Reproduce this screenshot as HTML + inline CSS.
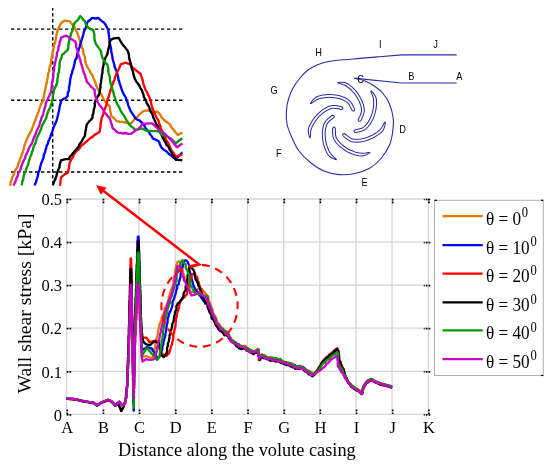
<!DOCTYPE html>
<html><head><meta charset="utf-8"><title>Wall shear stress</title>
<style>
html,body{margin:0;padding:0;background:#fff;}
svg{display:block}
.tk{font-family:"Liberation Serif",serif;font-size:16.5px;fill:#000}
.xl{font-family:"Liberation Serif",serif;font-size:18.3px;fill:#000}
.yl{font-family:"Liberation Serif",serif;font-size:19.8px;fill:#000}
.lg{font-family:"Liberation Serif",serif;font-size:18.8px;fill:#000}
.vl{font-family:"Liberation Sans",sans-serif;font-size:10.5px;fill:#000}
</style></head><body>
<svg width="550" height="466" viewBox="0 0 550 466">
<rect width="550" height="466" fill="#fff"/>
<line x1="66.7" y1="199.0" x2="66.7" y2="414.4" stroke="#d4d4d4" stroke-width="1.3"/>
<line x1="102.9" y1="199.0" x2="102.9" y2="414.4" stroke="#d4d4d4" stroke-width="1.3"/>
<line x1="139.0" y1="199.0" x2="139.0" y2="414.4" stroke="#d4d4d4" stroke-width="1.3"/>
<line x1="175.2" y1="199.0" x2="175.2" y2="414.4" stroke="#d4d4d4" stroke-width="1.3"/>
<line x1="211.3" y1="199.0" x2="211.3" y2="414.4" stroke="#d4d4d4" stroke-width="1.3"/>
<line x1="247.5" y1="199.0" x2="247.5" y2="414.4" stroke="#d4d4d4" stroke-width="1.3"/>
<line x1="283.7" y1="199.0" x2="283.7" y2="414.4" stroke="#d4d4d4" stroke-width="1.3"/>
<line x1="319.8" y1="199.0" x2="319.8" y2="414.4" stroke="#d4d4d4" stroke-width="1.3"/>
<line x1="356.0" y1="199.0" x2="356.0" y2="414.4" stroke="#d4d4d4" stroke-width="1.3"/>
<line x1="392.1" y1="199.0" x2="392.1" y2="414.4" stroke="#d4d4d4" stroke-width="1.3"/>
<line x1="428.3" y1="199.0" x2="428.3" y2="414.4" stroke="#d4d4d4" stroke-width="1.3"/>
<line x1="66.7" y1="199.0" x2="428.3" y2="199.0" stroke="#d4d4d4" stroke-width="1.3"/>
<line x1="66.7" y1="242.1" x2="428.3" y2="242.1" stroke="#d4d4d4" stroke-width="1.3"/>
<line x1="66.7" y1="285.2" x2="428.3" y2="285.2" stroke="#d4d4d4" stroke-width="1.3"/>
<line x1="66.7" y1="328.2" x2="428.3" y2="328.2" stroke="#d4d4d4" stroke-width="1.3"/>
<line x1="66.7" y1="371.3" x2="428.3" y2="371.3" stroke="#d4d4d4" stroke-width="1.3"/>
<line x1="66.7" y1="414.4" x2="428.3" y2="414.4" stroke="#d4d4d4" stroke-width="1.3"/>
<line x1="67.3" y1="198.8" x2="67.3" y2="203.4" stroke="#000" stroke-width="1.7" stroke-dasharray="1.7,1.1"/>
<line x1="67.3" y1="414.1" x2="67.3" y2="409.6" stroke="#000" stroke-width="1.7" stroke-dasharray="1.7,1.1"/>
<line x1="103.5" y1="198.8" x2="103.5" y2="203.4" stroke="#000" stroke-width="1.7" stroke-dasharray="1.7,1.1"/>
<line x1="103.5" y1="414.1" x2="103.5" y2="409.6" stroke="#000" stroke-width="1.7" stroke-dasharray="1.7,1.1"/>
<line x1="139.6" y1="198.8" x2="139.6" y2="203.4" stroke="#000" stroke-width="1.7" stroke-dasharray="1.7,1.1"/>
<line x1="139.6" y1="414.1" x2="139.6" y2="409.6" stroke="#000" stroke-width="1.7" stroke-dasharray="1.7,1.1"/>
<line x1="175.8" y1="198.8" x2="175.8" y2="203.4" stroke="#000" stroke-width="1.7" stroke-dasharray="1.7,1.1"/>
<line x1="175.8" y1="414.1" x2="175.8" y2="409.6" stroke="#000" stroke-width="1.7" stroke-dasharray="1.7,1.1"/>
<line x1="211.9" y1="198.8" x2="211.9" y2="203.4" stroke="#000" stroke-width="1.7" stroke-dasharray="1.7,1.1"/>
<line x1="211.9" y1="414.1" x2="211.9" y2="409.6" stroke="#000" stroke-width="1.7" stroke-dasharray="1.7,1.1"/>
<line x1="248.1" y1="198.8" x2="248.1" y2="203.4" stroke="#000" stroke-width="1.7" stroke-dasharray="1.7,1.1"/>
<line x1="248.1" y1="414.1" x2="248.1" y2="409.6" stroke="#000" stroke-width="1.7" stroke-dasharray="1.7,1.1"/>
<line x1="284.3" y1="198.8" x2="284.3" y2="203.4" stroke="#000" stroke-width="1.7" stroke-dasharray="1.7,1.1"/>
<line x1="284.3" y1="414.1" x2="284.3" y2="409.6" stroke="#000" stroke-width="1.7" stroke-dasharray="1.7,1.1"/>
<line x1="320.4" y1="198.8" x2="320.4" y2="203.4" stroke="#000" stroke-width="1.7" stroke-dasharray="1.7,1.1"/>
<line x1="320.4" y1="414.1" x2="320.4" y2="409.6" stroke="#000" stroke-width="1.7" stroke-dasharray="1.7,1.1"/>
<line x1="356.6" y1="198.8" x2="356.6" y2="203.4" stroke="#000" stroke-width="1.7" stroke-dasharray="1.7,1.1"/>
<line x1="356.6" y1="414.1" x2="356.6" y2="409.6" stroke="#000" stroke-width="1.7" stroke-dasharray="1.7,1.1"/>
<line x1="392.7" y1="198.8" x2="392.7" y2="203.4" stroke="#000" stroke-width="1.7" stroke-dasharray="1.7,1.1"/>
<line x1="392.7" y1="414.1" x2="392.7" y2="409.6" stroke="#000" stroke-width="1.7" stroke-dasharray="1.7,1.1"/>
<line x1="428.9" y1="198.8" x2="428.9" y2="203.4" stroke="#000" stroke-width="1.7" stroke-dasharray="1.7,1.1"/>
<line x1="428.9" y1="414.1" x2="428.9" y2="409.6" stroke="#000" stroke-width="1.7" stroke-dasharray="1.7,1.1"/>
<line x1="66.7" y1="199.5" x2="71.7" y2="199.5" stroke="#000" stroke-width="1.7" stroke-dasharray="1.7,1.1"/>
<line x1="430.3" y1="199.5" x2="423.8" y2="199.5" stroke="#000" stroke-width="1.7" stroke-dasharray="1.7,1.1"/>
<line x1="66.7" y1="242.6" x2="71.7" y2="242.6" stroke="#000" stroke-width="1.7" stroke-dasharray="1.7,1.1"/>
<line x1="430.3" y1="242.6" x2="423.8" y2="242.6" stroke="#000" stroke-width="1.7" stroke-dasharray="1.7,1.1"/>
<line x1="66.7" y1="285.7" x2="71.7" y2="285.7" stroke="#000" stroke-width="1.7" stroke-dasharray="1.7,1.1"/>
<line x1="430.3" y1="285.7" x2="423.8" y2="285.7" stroke="#000" stroke-width="1.7" stroke-dasharray="1.7,1.1"/>
<line x1="66.7" y1="328.7" x2="71.7" y2="328.7" stroke="#000" stroke-width="1.7" stroke-dasharray="1.7,1.1"/>
<line x1="430.3" y1="328.7" x2="423.8" y2="328.7" stroke="#000" stroke-width="1.7" stroke-dasharray="1.7,1.1"/>
<line x1="66.7" y1="371.8" x2="71.7" y2="371.8" stroke="#000" stroke-width="1.7" stroke-dasharray="1.7,1.1"/>
<line x1="430.3" y1="371.8" x2="423.8" y2="371.8" stroke="#000" stroke-width="1.7" stroke-dasharray="1.7,1.1"/>
<line x1="66.7" y1="414.9" x2="71.7" y2="414.9" stroke="#000" stroke-width="1.7" stroke-dasharray="1.7,1.1"/>
<line x1="430.3" y1="414.9" x2="423.8" y2="414.9" stroke="#000" stroke-width="1.7" stroke-dasharray="1.7,1.1"/>
<polyline points="66.4,398.4 68.1,398.6 69.7,398.5 71.2,398.9 72.8,398.8 74.6,399.0 76.3,399.4 77.9,399.7 79.6,400.3 81.3,400.6 83.1,400.8 84.8,401.3 86.4,401.4 88.3,401.9 90.0,402.3 91.8,402.5 93.5,402.8 95.3,404.1 97.2,405.2 98.5,404.2 100.2,403.3 101.5,402.2 103.1,401.6 104.7,401.1 106.4,400.5 108.1,399.9 109.9,400.7 111.7,401.2 112.9,402.7 114.2,403.9 115.4,405.1 116.7,404.1 117.9,402.7 119.4,401.8 120.2,403.1 121.4,404.2 122.4,405.7 124.8,404.1 125.1,402.4 125.5,400.8 125.9,399.4 126.2,397.7 126.3,395.8 126.5,394.2 126.5,392.7 126.7,390.9 126.7,389.5 126.9,387.9 127.2,386.1 127.2,384.5 127.3,382.8 127.4,381.2 127.6,379.4 127.5,377.8 127.5,376.0 127.8,374.4 127.8,372.5 127.8,371.0 127.8,369.3 128.1,367.5 128.1,365.9 128.2,364.2 128.3,362.6 128.2,360.7 128.5,359.3 128.4,357.4 128.6,355.7 128.6,354.1 128.7,352.5 128.7,350.8 128.9,349.1 128.9,347.6 128.8,345.8 129.0,344.2 128.9,342.6 129.1,340.9 129.0,339.3 129.2,337.7 129.3,336.0 129.2,334.5 129.4,332.8 129.2,331.1 129.4,329.5 129.5,328.0 129.4,326.2 129.6,324.7 129.6,323.0 129.5,321.3 129.7,319.7 129.6,318.1 129.7,316.4 129.9,314.7 129.7,313.3 130.0,311.7 129.9,310.1 130.1,308.2 130.1,306.7 130.1,305.0 130.1,303.3 130.1,301.6 130.2,300.0 130.4,298.3 130.4,296.9 130.5,295.3 130.5,293.6 130.3,292.0 130.4,290.2 130.6,288.6 130.6,287.1 131.2,287.0 131.2,288.7 131.3,290.3 131.3,291.7 131.3,293.5 131.3,295.1 131.5,296.7 131.5,298.1 131.5,299.9 131.4,301.3 131.5,303.0 131.6,304.6 131.7,306.1 131.5,307.7 131.6,309.3 131.9,311.1 131.6,312.6 131.7,314.1 131.8,315.8 131.9,317.4 131.8,318.9 131.8,320.6 132.0,322.2 131.9,323.7 132.0,325.4 132.1,327.0 132.2,328.6 132.1,330.2 132.2,331.9 132.2,333.5 132.2,334.9 132.3,336.7 132.2,338.2 132.3,339.9 132.5,341.4 132.5,343.1 132.4,344.6 132.4,346.3 132.6,347.9 132.6,349.5 132.7,351.0 132.5,352.6 132.5,354.1 132.8,355.7 132.6,357.3 132.9,358.9 132.7,360.7 132.7,362.3 132.9,363.9 133.1,365.4 133.0,366.9 133.1,368.6 133.1,370.1 133.1,371.9 133.0,373.3 133.2,375.1 133.1,376.5 133.1,378.2 133.3,379.8 133.3,381.4 133.3,383.0 133.2,384.6 133.5,386.2 133.5,387.7 133.5,389.5 133.6,391.0 133.5,392.6 133.7,394.1 133.5,395.9 133.8,397.4 133.7,399.1 133.6,397.3 133.7,395.7 133.7,394.0 133.9,392.5 133.8,390.8 133.9,389.2 134.0,387.4 133.9,385.7 134.0,384.1 133.9,382.5 134.0,381.0 134.0,379.4 134.1,377.6 134.2,376.0 134.3,374.3 134.2,372.7 134.4,371.0 134.4,369.5 134.3,367.6 134.3,366.1 134.5,364.5 134.5,362.7 134.4,361.0 134.4,359.5 134.6,357.9 134.5,356.3 134.5,354.5 134.7,352.8 134.6,351.4 134.8,349.6 134.9,348.1 134.9,346.4 135.1,344.8 135.1,343.2 135.4,341.6 135.3,339.9 135.3,338.4 135.4,336.9 135.7,335.0 135.8,333.5 135.8,332.0 135.7,330.4 135.9,328.8 135.9,327.2 136.2,325.5 136.1,323.7 136.2,322.2 136.3,320.7 136.4,318.9 136.5,317.5 136.4,315.9 136.6,314.1 136.8,312.5 136.7,311.0 136.9,309.4 137.0,307.7 136.9,306.0 137.0,304.6 137.2,302.9 137.3,301.2 137.2,299.6 137.5,297.9 137.5,296.4 137.6,294.8 137.6,293.2 137.7,291.7 137.8,290.1 138.5,289.9 138.6,291.6 138.8,293.4 138.7,294.9 138.9,296.8 139.1,298.4 139.1,299.9 139.1,301.6 139.2,303.4 139.2,305.0 139.5,306.6 139.6,308.5 139.7,310.1 139.7,311.8 139.8,313.6 139.9,315.1 140.0,316.8 140.0,318.5 139.9,320.2 140.2,321.8 140.2,323.5 140.2,325.1 140.2,326.7 140.5,328.3 140.5,330.1 140.7,331.5 140.8,333.2 140.6,334.8 140.8,336.3 141.0,338.2 141.0,339.8 141.2,341.2 141.3,342.9 141.4,344.6 141.4,346.1 141.5,347.9 141.6,349.4 141.7,351.0 141.9,352.9 142.3,354.9 142.7,357.0 144.5,356.5 146.0,356.0 147.9,356.8 150.1,357.6 152.7,357.3 153.6,355.1 153.6,353.5 154.2,351.5 154.1,349.8 155.1,348.0 155.2,346.3 155.3,344.6 155.9,342.9 155.9,341.1 156.4,339.7 156.6,337.6 157.3,336.3 157.8,334.3 157.9,332.9 158.0,331.7 158.4,329.3 159.0,327.7 159.4,326.2 159.4,324.3 160.2,322.8 160.8,321.5 161.5,319.8 161.5,318.3 162.5,317.1 162.7,315.1 163.5,314.3 164.0,312.1 164.2,310.6 164.4,310.2 164.9,308.1 166.7,305.2 167.4,303.1 167.9,301.2 168.6,298.6 168.6,297.1 169.8,295.1 169.9,294.1 170.5,291.5 171.3,289.4 172.5,287.1 173.0,285.6 173.3,283.8 173.6,282.1 173.5,280.7 174.1,279.3 173.9,277.4 174.6,276.2 174.8,274.4 174.9,272.5 175.4,270.7 175.4,269.5 176.0,267.3 176.0,266.1 176.6,264.5 177.6,261.9 178.7,261.5 179.3,261.5 180.2,263.1 182.0,265.5 182.2,267.6 182.4,270.1 182.9,271.3 183.1,273.5 183.8,274.7 184.9,278.1 185.4,279.4 186.1,281.2 186.8,282.4 187.4,283.4 187.8,284.8 189.6,286.7 189.5,290.3 191.0,291.9 193.1,291.8 194.5,292.5 196.2,290.7 197.9,289.0 198.9,288.4 200.3,288.6 201.7,288.7 203.1,290.7 204.5,292.4 206.1,294.0 206.3,295.7 206.9,295.1 208.3,296.8 208.4,299.2 207.9,300.7 210.1,302.5 209.9,303.8 210.4,305.7 212.1,308.3 212.5,310.4 212.6,312.0 213.0,312.8 214.5,315.3 215.3,316.3 215.8,317.8 216.9,320.4 216.8,322.2 217.7,322.6 219.7,324.7 220.8,326.7 221.5,328.3 223.4,329.2 224.8,331.1 226.8,331.7 227.0,333.0 228.5,334.2 229.0,336.9 230.9,338.8 232.3,340.1 232.8,340.0 234.2,341.5 236.0,342.7 237.8,344.5 239.6,345.1 242.3,346.2 243.0,345.8 245.5,345.9 245.8,347.7 248.0,348.1 248.6,349.1 252.0,350.3 254.5,351.6 256.7,349.6 257.6,348.8 258.3,350.9 257.9,352.9 258.2,354.1 258.8,356.5 259.4,357.2 259.8,355.7 261.9,354.3 264.1,355.5 264.7,355.3 267.2,357.4 268.6,357.8 270.5,357.2 271.7,357.1 274.3,359.0 276.7,358.5 278.2,359.6 280.4,359.3 281.2,360.2 282.2,360.7 285.0,362.5 286.7,362.0 288.3,362.6 290.9,363.3 293.0,363.6 293.8,364.9 295.8,366.2 298.3,366.7 299.7,365.6 301.5,366.8 303.2,366.7 305.0,368.8 305.4,369.3 307.3,370.0 309.9,372.0 311.1,371.9 313.3,373.1 314.9,374.2 315.9,372.5 317.4,371.8 317.9,370.1 318.8,368.6 319.7,367.9 320.5,366.0 322.0,364.2 323.7,363.0 325.4,361.5 326.9,359.5 327.9,359.0 329.3,357.1 331.1,355.9 332.7,354.5 334.8,353.2 336.7,351.4 337.8,353.7 338.3,355.2 338.0,356.5 338.6,358.3 338.3,360.6 339.0,361.7 339.9,364.0 340.3,365.5 341.2,368.1 342.1,369.2 343.0,370.9 343.9,373.7 344.4,375.3 345.9,377.5 346.8,378.5 347.1,380.6 348.5,382.2 349.8,383.1 351.2,385.2 353.0,386.5 354.2,387.4 355.7,388.3 357.4,388.9 358.7,390.4 360.5,391.1 362.2,392.9 362.0,390.7 362.5,388.8 363.6,387.3 364.0,385.4 364.3,384.5 365.9,383.2 366.7,381.4 368.3,380.2 369.6,379.6 370.7,378.8 372.6,379.6 374.3,380.3 376.0,381.4 378.4,382.4 380.3,383.1 381.7,383.9 383.6,383.7 385.8,384.7 387.6,385.1 389.7,386.1 392.1,386.5" fill="none" stroke="#e07a00" stroke-width="2.3" stroke-linejoin="round" stroke-linecap="butt" />
<polyline points="66.5,398.4 68.1,398.6 69.8,398.6 71.3,398.8 72.8,398.9 74.6,399.1 76.1,399.5 77.9,399.9 79.6,400.1 81.3,400.6 83.0,401.0 84.8,401.3 86.4,401.6 88.2,401.8 90.0,402.3 91.8,402.3 93.4,402.7 95.3,403.9 97.0,405.2 98.5,404.2 100.0,403.4 101.5,402.4 103.2,401.8 104.9,401.0 106.4,400.3 108.1,399.8 109.8,400.7 111.5,401.2 112.9,402.6 113.9,403.8 115.3,405.1 116.7,403.9 117.9,402.8 119.3,401.7 120.4,403.0 121.4,404.2 122.6,405.7 124.6,404.2 125.2,402.7 125.3,400.8 125.8,399.2 126.3,397.7 126.3,395.9 126.5,394.4 126.5,392.7 126.6,391.1 126.7,389.5 127.0,387.8 127.0,386.1 127.2,384.6 127.3,382.8 127.5,381.2 127.4,379.4 127.4,378.0 127.4,376.2 127.6,374.5 127.7,373.0 127.8,371.3 127.7,369.5 127.8,367.9 127.8,366.4 127.9,364.7 128.2,362.9 128.3,361.3 128.1,359.6 128.1,358.0 128.3,356.5 128.5,354.6 128.4,353.0 128.4,351.3 128.5,349.8 128.6,348.0 128.6,346.5 128.7,344.8 128.8,343.2 128.9,341.7 128.8,340.1 128.9,338.4 129.0,336.8 129.0,335.0 129.1,333.6 129.1,331.9 129.1,330.4 129.2,328.5 129.3,327.1 129.2,325.5 129.3,323.7 129.4,322.1 129.5,320.5 129.3,318.9 129.6,317.2 129.5,315.7 129.5,314.0 129.6,312.5 129.6,310.6 129.8,309.1 129.7,307.6 129.9,305.9 130.0,304.4 129.9,302.6 129.8,301.1 130.0,299.3 130.0,297.8 130.0,296.2 130.1,294.5 130.0,292.9 130.1,291.3 130.1,289.6 130.2,288.0 130.3,286.3 130.2,284.7 130.3,283.1 130.3,281.4 130.5,280.0 130.6,278.3 130.5,276.5 130.5,274.9 131.3,274.9 131.4,276.6 131.2,278.2 131.4,279.8 131.3,281.5 131.3,283.0 131.5,284.8 131.5,286.4 131.3,288.0 131.5,289.5 131.5,291.3 131.5,292.8 131.4,294.4 131.5,296.0 131.6,297.7 131.7,299.2 131.7,300.8 131.8,302.4 131.7,304.1 131.7,305.6 131.7,307.4 131.7,309.0 131.8,310.7 132.0,312.2 131.8,313.6 131.9,315.5 132.1,316.9 131.9,318.8 132.1,320.2 132.1,321.7 132.1,323.5 132.1,325.0 132.0,326.7 132.3,328.2 132.0,329.8 132.3,331.5 132.2,333.3 132.3,334.7 132.3,336.2 132.2,338.1 132.2,339.5 132.4,341.2 132.5,342.7 132.5,344.4 132.6,346.1 132.5,347.6 132.4,349.3 132.6,350.9 132.5,352.5 132.5,354.1 132.7,355.8 132.7,357.3 132.6,358.9 132.7,360.5 132.8,362.2 132.9,363.9 132.9,365.5 132.9,367.1 132.8,368.6 133.0,370.3 132.8,372.1 133.0,373.6 133.0,375.0 133.2,376.7 133.0,378.5 133.0,380.0 133.1,381.5 133.3,383.2 133.1,384.8 133.1,386.5 133.4,388.2 133.2,389.8 133.3,391.3 133.3,392.9 133.3,394.6 133.3,396.3 133.3,397.9 133.4,399.3 133.6,401.0 133.6,402.6 133.6,404.1 133.7,405.9 133.8,407.3 133.5,409.1 133.8,410.7 133.8,409.1 133.7,407.5 133.8,405.7 133.7,404.4 133.7,402.7 133.7,401.0 133.9,399.5 134.0,397.9 133.8,396.2 133.8,394.6 133.9,393.1 133.8,391.3 133.8,389.7 134.0,388.2 134.1,386.6 134.0,385.0 133.9,383.5 134.1,381.8 134.1,380.1 134.0,378.5 134.0,377.0 134.2,375.5 134.0,373.9 134.1,372.1 134.2,370.5 134.1,368.9 134.3,367.4 134.3,365.7 134.4,364.2 134.3,362.7 134.2,361.0 134.4,359.2 134.3,357.9 134.3,356.2 134.5,354.5 134.3,352.8 134.5,351.3 134.4,349.7 134.6,348.0 134.3,346.6 134.4,344.9 134.6,343.2 134.4,341.8 134.4,340.0 134.7,338.4 134.7,336.8 134.5,335.2 134.6,333.7 134.6,332.0 134.6,330.5 134.9,328.9 134.9,327.1 134.8,325.5 134.8,324.1 135.1,322.5 135.0,320.6 135.1,319.0 135.3,317.4 135.1,316.0 135.2,314.4 135.2,312.7 135.2,311.1 135.4,309.3 135.5,307.8 135.4,306.0 135.6,304.4 135.7,302.9 135.6,301.2 135.6,299.6 135.8,298.0 135.8,296.4 135.9,294.9 135.9,293.3 136.0,291.5 135.9,290.1 136.1,288.3 136.2,286.8 136.2,285.1 136.2,283.4 136.3,281.9 136.4,280.3 136.4,278.7 136.4,277.2 136.4,275.5 136.5,273.9 136.6,272.1 136.7,270.7 136.8,269.1 136.9,267.2 136.8,265.6 137.0,264.1 137.0,262.6 137.1,260.9 137.2,259.3 137.0,257.7 137.0,255.9 137.3,254.3 137.3,252.6 137.2,251.2 137.2,249.5 137.6,247.8 137.5,246.4 137.6,244.8 137.6,242.9 137.5,241.5 137.8,239.8 137.8,238.1 137.9,236.6 138.6,236.7 138.5,238.3 138.8,239.9 138.7,241.4 138.7,243.2 138.8,244.7 138.9,246.4 138.9,247.9 139.0,249.6 139.0,251.1 139.2,252.9 139.1,254.4 139.3,256.0 139.1,257.5 139.2,259.3 139.2,261.0 139.4,262.5 139.4,264.2 139.5,265.8 139.5,267.4 139.6,268.9 139.6,270.6 139.7,272.1 139.6,273.8 139.8,275.4 139.7,277.0 139.8,278.7 139.7,280.2 139.8,282.1 139.9,283.6 139.9,285.2 140.1,286.9 139.9,288.4 140.1,289.9 140.2,291.6 140.1,293.3 140.3,294.9 140.4,296.6 140.3,298.1 140.4,299.8 140.4,301.4 140.3,303.0 140.4,304.6 140.7,306.4 140.5,308.1 140.7,309.5 140.8,311.2 140.9,312.8 140.7,314.5 140.9,316.3 140.9,317.7 140.9,319.5 140.8,321.2 141.1,322.9 141.1,324.4 141.2,325.9 141.1,327.5 141.1,329.4 141.1,331.0 141.3,332.7 141.4,334.2 141.5,335.7 141.3,337.4 141.4,339.1 141.6,340.8 141.7,342.4 141.6,344.0 141.9,346.1 142.0,348.0 142.3,349.9 144.0,348.9 145.5,348.0 146.9,347.0 148.7,347.7 150.4,348.1 152.3,348.9 152.6,350.4 154.1,352.0 154.9,353.0 155.4,354.7 156.3,356.3 157.5,357.9 159.4,356.8 160.4,355.6 160.5,354.0 161.1,352.6 161.6,350.6 162.3,349.4 162.5,347.3 162.5,346.0 163.4,344.2 163.3,342.6 163.9,340.6 164.3,339.0 164.7,337.6 165.4,335.4 165.3,334.4 165.7,332.5 166.1,330.5 166.3,329.4 166.4,327.5 166.7,325.8 166.9,324.2 167.5,323.1 167.5,321.4 167.7,319.6 167.8,318.3 168.5,316.6 168.8,314.8 169.5,312.8 170.7,310.6 170.7,310.9 171.3,309.1 172.0,306.9 172.6,304.7 172.4,303.4 172.8,301.1 173.8,299.3 174.2,298.2 174.7,296.1 175.4,294.7 175.9,292.3 176.4,289.9 177.3,288.1 177.0,285.2 178.7,284.4 179.0,281.9 179.7,280.0 180.1,278.3 180.6,276.4 180.6,274.1 181.2,271.7 181.4,270.1 182.2,267.9 183.0,265.8 183.2,263.8 183.9,261.9 185.1,260.3 186.5,260.7 187.8,262.2 188.7,264.4 189.4,266.1 189.4,267.3 189.4,269.4 189.7,271.3 190.7,274.1 191.3,276.4 191.6,278.7 192.2,280.3 192.4,281.8 193.3,284.9 194.4,287.7 196.2,290.6 197.6,292.2 198.6,294.4 200.7,296.5 201.4,297.9 202.8,299.8 204.0,301.4 205.1,302.4 206.7,302.3 206.9,301.6 207.1,303.6 207.7,305.3 208.9,307.5 209.2,308.6 209.7,310.4 210.2,312.1 211.6,312.2 212.7,314.2 211.7,315.6 212.1,317.2 214.1,319.9 214.7,321.2 215.8,322.4 215.9,323.2 216.6,325.2 217.7,327.1 219.0,328.4 220.9,329.6 221.7,330.1 224.1,331.1 225.4,333.5 226.2,334.6 227.9,335.7 228.7,336.8 229.9,337.2 230.6,339.3 231.4,340.8 233.7,342.0 235.0,342.0 236.3,343.8 238.7,344.1 239.4,347.0 241.4,347.0 243.5,347.0 244.9,347.8 247.3,348.7 248.4,349.3 249.8,350.8 252.0,352.0 253.0,352.9 256.1,350.9 258.0,349.9 257.9,352.8 259.0,354.4 258.4,354.7 259.0,357.0 259.9,358.3 261.0,356.9 261.3,355.5 262.7,356.1 264.6,356.2 266.8,357.9 268.8,358.0 271.2,359.1 271.7,358.1 274.9,359.1 275.4,359.0 278.3,359.3 279.7,360.4 281.1,361.4 283.6,362.7 285.0,362.9 286.3,363.4 288.9,363.8 290.4,364.9 291.7,365.5 294.9,365.1 295.5,367.4 297.0,367.5 299.7,366.6 301.6,366.9 303.8,367.8 305.4,369.7 305.4,369.9 306.9,371.4 308.5,371.5 310.2,374.0 312.2,374.3 315.0,374.0 315.9,372.9 316.9,371.2 318.3,369.7 318.7,368.7 319.7,367.3 321.1,365.5 322.1,363.5 324.0,362.1 325.0,360.4 326.4,359.5 327.8,358.0 329.7,356.6 331.2,355.3 332.5,354.5 335.3,352.2 336.8,350.6 337.9,352.3 338.3,354.6 338.4,355.8 338.9,357.6 338.6,360.0 339.1,361.6 339.4,363.6 340.5,364.9 341.6,367.6 342.0,369.0 343.7,370.7 343.7,372.6 344.3,374.3 345.2,375.7 345.8,376.8 346.6,378.6 347.2,380.2 348.3,382.4 350.3,384.0 351.1,386.0 352.8,387.2 354.1,387.7 355.6,389.1 357.0,390.1 358.4,391.0 359.9,391.9 361.5,393.0 362.3,391.4 362.8,389.5 363.1,387.9 364.0,385.9 364.6,385.1 365.7,383.2 367.0,381.6 367.8,380.7 369.5,380.5 370.8,379.2 372.9,379.9 374.0,381.2 375.8,382.0 377.7,382.8 380.2,383.4 381.7,384.3 384.0,384.3 385.6,385.0 387.7,385.4 390.0,386.1 392.1,387.1" fill="none" stroke="#0000ff" stroke-width="2.3" stroke-linejoin="round" stroke-linecap="butt" />
<polyline points="66.6,398.8 68.0,398.8 69.6,399.0 71.4,399.1 72.9,399.4 74.6,399.5 76.1,399.7 77.9,400.1 79.6,400.5 81.2,401.0 83.0,401.3 84.7,401.7 86.5,401.8 88.3,402.2 89.9,402.7 91.8,402.8 93.4,403.1 95.3,404.4 97.0,405.7 98.5,404.8 100.0,403.6 101.6,402.7 103.0,402.0 104.6,401.4 106.5,401.0 108.0,400.1 109.7,400.9 111.6,401.7 112.7,403.0 114.0,404.3 115.4,405.6 116.9,404.7 118.5,404.0 119.1,405.8 119.9,407.4 120.5,409.3 121.3,410.9 122.3,409.0 123.5,407.0 123.9,405.2 124.5,403.5 124.9,401.8 125.4,400.1 125.8,398.2 125.9,396.5 126.0,394.9 126.4,393.2 126.5,391.5 126.7,389.7 126.9,388.1 127.1,386.2 127.1,384.5 127.3,382.8 127.4,381.3 127.4,379.6 127.5,377.8 127.6,376.1 127.6,374.6 127.5,372.8 127.7,371.3 127.7,369.5 127.9,368.0 127.8,366.4 127.9,364.7 127.8,363.0 127.8,361.3 128.1,359.6 127.9,358.2 128.1,356.4 128.2,354.8 128.2,353.2 128.1,351.6 128.3,349.8 128.3,348.2 128.4,346.5 128.4,345.0 128.6,343.1 128.7,341.7 128.6,339.8 128.8,338.4 128.6,336.8 128.9,335.0 128.9,333.4 128.9,331.8 128.9,330.1 129.0,328.6 128.9,326.8 128.9,325.2 129.2,323.7 129.2,322.1 129.0,320.4 129.3,318.9 129.3,317.2 129.3,315.6 129.4,313.9 129.2,312.2 129.2,310.6 129.4,309.0 129.3,307.3 129.4,305.8 129.5,304.3 129.4,302.4 129.5,301.0 129.7,299.3 129.8,297.5 129.8,296.0 129.8,294.4 129.9,292.7 129.7,291.1 129.9,289.5 129.8,287.8 130.0,286.2 130.0,284.7 130.1,283.1 130.0,281.5 130.2,279.8 130.0,278.0 130.2,276.6 130.3,274.9 130.3,273.1 130.3,271.8 130.2,270.0 130.5,268.4 130.4,266.7 130.5,265.2 130.6,263.4 130.6,261.9 130.5,260.3 130.6,258.5 131.1,258.7 131.3,260.1 131.1,261.8 131.2,263.5 131.2,265.1 131.3,266.6 131.5,268.3 131.4,270.0 131.4,271.4 131.6,273.2 131.5,274.8 131.5,276.3 131.4,278.0 131.7,279.5 131.7,281.2 131.7,282.9 131.6,284.4 131.8,286.2 131.8,287.7 131.7,289.4 131.8,291.0 131.7,292.6 131.9,294.2 131.7,295.7 131.9,297.4 132.0,299.0 132.0,300.5 131.9,302.3 132.1,304.0 131.9,305.5 132.1,306.9 131.9,308.6 132.1,310.2 132.1,312.0 132.2,313.4 132.2,315.2 132.2,316.9 132.3,318.4 132.3,320.0 132.1,321.5 132.4,323.2 132.3,324.9 132.4,326.5 132.3,328.1 132.2,329.6 132.3,331.3 132.4,332.8 132.5,334.4 132.5,336.0 132.5,337.7 132.7,339.3 132.7,341.0 132.6,342.7 132.6,344.2 132.7,346.0 132.8,347.3 132.7,349.2 132.9,350.6 132.7,352.2 132.9,353.8 133.0,355.5 132.9,357.2 132.8,358.8 133.0,360.3 133.0,362.0 133.1,363.5 132.9,365.2 133.1,366.8 133.2,368.4 133.1,370.1 133.0,371.7 133.1,373.3 133.3,375.1 133.3,376.5 133.2,378.3 133.1,379.6 133.2,381.5 133.3,383.0 133.2,384.7 133.5,386.3 133.5,387.9 133.4,389.4 133.4,391.0 133.5,392.6 133.4,394.4 133.7,396.0 133.5,397.5 133.6,399.2 133.6,400.8 133.7,402.5 133.7,403.9 133.7,402.5 133.6,400.8 133.7,399.1 133.8,397.5 133.8,396.0 133.8,394.4 134.0,392.7 134.0,391.2 133.9,389.6 134.0,388.0 134.0,386.3 134.0,384.8 134.0,383.3 134.0,381.5 134.1,380.0 134.0,378.4 134.0,376.7 134.1,375.2 134.3,373.6 134.1,372.0 134.2,370.3 134.1,368.8 134.2,367.0 134.2,365.4 134.2,363.8 134.3,362.2 134.4,360.8 134.5,359.0 134.4,357.5 134.5,355.8 134.3,354.3 134.5,352.6 134.5,350.9 134.6,349.5 134.7,347.7 134.6,346.3 134.5,344.6 134.5,342.9 134.5,341.3 134.8,339.8 134.9,338.3 134.8,336.6 135.0,334.9 134.9,333.2 135.0,331.6 135.0,330.1 135.2,328.3 135.1,326.8 135.4,325.2 135.4,323.7 135.5,321.9 135.6,320.4 135.5,318.6 135.6,317.1 135.8,315.4 135.8,313.7 135.8,312.2 136.0,310.7 135.8,309.1 135.9,307.5 136.2,305.7 136.1,304.0 136.3,302.6 136.4,301.0 136.3,299.3 136.3,297.6 136.4,296.1 136.5,294.4 136.6,292.9 136.6,291.1 136.7,289.5 136.8,287.8 136.7,286.2 136.9,284.8 137.0,283.1 137.2,281.5 137.0,279.7 137.2,278.1 137.3,276.5 137.3,275.0 137.3,273.2 137.5,271.6 137.6,270.1 137.7,268.5 137.6,266.8 137.5,265.4 137.7,263.5 137.9,262.0 138.6,262.1 138.7,263.6 138.7,265.3 138.9,266.9 138.8,268.6 138.8,270.3 139.1,271.8 139.1,273.5 139.0,275.1 139.3,276.8 139.4,278.4 139.5,280.2 139.5,281.6 139.5,283.2 139.6,284.9 139.6,286.6 139.6,288.3 139.8,289.9 139.9,291.8 140.0,293.4 139.9,295.0 140.0,296.7 140.1,298.3 140.3,299.7 140.2,301.6 140.4,303.2 140.3,304.7 140.6,306.6 140.5,308.3 140.7,309.8 140.8,311.7 140.9,313.4 140.8,315.0 140.8,316.7 141.1,318.3 140.9,319.9 141.1,321.8 141.2,323.4 141.2,324.9 141.3,326.6 141.5,328.3 141.5,330.1 141.6,331.8 142.2,333.8 142.6,335.7 143.2,337.8 144.9,337.7 146.4,337.6 147.6,339.2 148.5,340.6 149.6,342.3 151.7,341.5 154.0,340.9 155.6,340.6 157.9,341.1 158.4,342.4 158.8,344.5 159.7,346.5 160.4,348.4 160.6,350.1 161.7,352.5 162.7,354.5 164.4,355.0 166.6,356.1 167.2,354.8 168.6,353.9 169.5,352.3 169.6,350.9 170.6,348.8 170.6,347.6 171.4,345.3 172.1,344.1 172.3,342.1 172.8,340.5 172.9,339.4 173.3,337.1 173.1,335.5 173.4,334.4 174.1,332.5 174.3,330.9 174.6,329.5 174.9,328.0 175.5,326.4 175.6,324.2 175.6,323.1 175.8,321.3 175.9,319.9 176.2,317.9 176.9,316.1 176.6,314.7 177.3,312.9 177.6,311.8 178.3,310.3 179.2,306.7 179.4,304.1 180.2,301.8 182.2,299.2 184.5,296.9 185.5,295.7 186.7,294.4 187.2,292.5 187.3,290.8 188.2,288.6 188.2,286.9 188.8,284.8 189.6,283.8 189.7,281.6 190.8,279.7 191.1,276.8 191.9,274.8 193.6,273.7 194.6,274.2 195.7,275.7 197.3,277.4 197.6,280.4 198.6,281.8 199.2,284.9 200.2,287.1 200.3,288.6 201.2,289.9 201.7,292.2 202.2,293.5 203.0,294.8 203.4,296.7 204.2,298.6 204.8,300.9 205.9,301.5 208.1,302.3 208.0,303.3 207.9,305.3 208.2,306.9 210.0,308.6 209.6,310.7 210.1,311.8 211.5,314.1 211.6,314.3 213.2,315.8 212.8,318.2 214.5,319.4 214.1,320.8 215.1,322.1 216.8,324.2 217.6,325.4 218.5,328.0 218.8,329.7 220.4,330.4 223.1,331.1 224.5,332.1 225.0,334.1 226.6,333.7 227.1,335.7 228.4,336.3 230.1,338.1 231.2,339.6 231.0,341.1 233.6,342.9 234.6,342.8 236.0,343.9 237.8,344.8 239.2,347.6 242.1,347.0 243.5,347.1 245.6,348.6 246.8,349.2 247.8,350.9 249.1,350.6 250.9,352.8 253.3,352.1 256.0,351.4 258.0,351.8 257.9,352.8 259.4,355.1 259.6,355.3 260.0,357.8 258.9,360.1 260.0,358.3 260.9,355.0 263.4,356.9 265.2,358.2 266.1,359.0 268.3,359.7 270.7,359.6 271.6,360.4 273.7,359.5 275.9,360.7 277.7,360.5 280.1,360.4 280.7,361.7 283.2,363.2 284.2,363.7 287.2,364.2 288.1,363.6 291.3,365.5 291.9,366.3 294.2,366.8 295.7,367.6 297.5,367.5 299.3,368.5 302.0,368.1 302.5,368.4 305.1,369.5 305.2,371.3 307.4,371.0 309.6,372.9 311.5,374.7 313.2,375.9 314.9,374.0 316.0,372.3 316.8,370.7 317.7,369.3 318.7,367.3 320.1,365.8 321.1,363.7 321.9,362.3 323.5,360.3 325.1,358.6 326.6,357.2 328.3,355.9 329.3,354.5 330.9,353.6 332.5,352.1 335.1,349.9 337.3,348.2 338.2,350.1 338.7,352.0 338.8,353.7 338.9,355.7 339.3,357.4 339.4,359.1 339.7,360.7 340.8,362.2 341.0,364.1 342.0,365.9 342.5,367.6 344.0,369.2 344.0,371.6 344.3,372.8 345.0,375.3 345.8,376.6 346.6,378.6 346.9,379.8 347.8,381.7 348.2,383.0 350.0,384.2 351.2,385.7 353.1,387.1 354.0,388.5 355.5,389.3 357.0,390.6 358.7,391.0 359.9,392.4 362.0,393.9 362.4,391.9 363.1,390.1 363.3,388.8 363.9,386.7 364.9,385.5 365.5,383.7 366.8,382.3 367.9,381.5 369.2,380.5 371.4,379.6 372.9,380.3 374.2,381.5 376.0,382.7 378.4,383.0 379.7,384.2 382.1,384.6 383.5,384.7 385.9,385.7 387.7,385.8 389.7,386.6 392.1,387.5" fill="none" stroke="#ff0000" stroke-width="2.3" stroke-linejoin="round" stroke-linecap="butt" />
<polyline points="66.5,398.8 68.1,398.9 69.6,399.1 71.4,399.1 73.0,399.3 74.4,399.3 76.3,399.7 77.8,400.0 79.7,400.5 81.2,400.9 83.0,401.3 84.6,401.8 86.5,401.9 88.2,402.2 89.8,402.6 91.7,402.9 93.6,403.0 95.2,404.4 97.1,405.6 98.5,404.6 99.9,403.8 101.6,402.7 103.0,402.1 104.7,401.6 106.4,400.7 108.1,400.2 109.8,401.0 111.5,401.6 112.7,403.0 114.0,404.2 115.2,405.7 116.8,404.9 118.6,404.1 119.1,405.9 119.9,407.6 120.7,409.2 121.3,411.1 122.3,408.9 123.4,407.0 123.9,405.4 124.4,403.5 125.1,401.8 125.6,400.0 125.8,398.4 126.0,396.6 126.0,394.8 126.2,393.0 126.5,391.4 126.6,389.5 127.0,387.9 127.0,386.2 127.2,384.6 127.4,382.9 127.5,381.2 127.4,379.5 127.6,377.8 127.4,376.4 127.5,374.5 127.6,373.0 127.7,371.3 127.7,369.7 127.7,368.1 127.8,366.4 128.1,364.9 128.0,363.2 127.9,361.4 128.1,360.0 128.0,358.2 128.3,356.5 128.3,354.9 128.4,353.4 128.5,351.8 128.4,350.1 128.6,348.3 128.5,346.7 128.6,345.1 128.8,343.4 128.8,341.8 128.8,340.3 128.8,338.6 128.7,336.9 128.9,335.3 129.0,333.8 129.0,332.2 128.9,330.4 128.9,329.0 129.1,327.5 129.1,325.7 129.2,324.2 129.2,322.4 129.2,320.8 129.4,319.3 129.3,317.5 129.5,316.0 129.5,314.3 129.3,312.8 129.4,311.2 129.5,309.4 129.5,307.8 129.7,306.1 129.6,304.5 129.6,303.0 129.7,301.5 129.9,299.8 130.0,298.3 129.8,296.6 130.0,294.8 130.1,293.2 130.1,291.8 130.1,290.1 130.1,288.4 130.0,286.8 130.1,285.3 130.3,283.7 130.2,282.1 130.4,280.2 130.4,278.6 130.3,277.1 130.5,275.4 130.4,273.9 130.5,272.1 130.5,270.5 130.5,269.1 131.1,269.1 131.3,270.7 131.3,272.1 131.2,274.0 131.4,275.6 131.2,277.2 131.3,278.8 131.4,280.3 131.4,281.8 131.6,283.7 131.5,285.3 131.6,286.8 131.5,288.5 131.7,290.2 131.7,291.6 131.6,293.3 131.7,295.1 131.7,296.6 131.7,298.1 131.7,300.0 131.9,301.5 131.9,303.0 131.7,304.5 131.7,306.2 132.0,307.9 131.8,309.4 131.8,311.0 131.9,312.7 131.9,314.3 132.1,315.9 132.0,317.7 132.0,319.3 132.1,321.0 132.0,322.5 132.3,324.1 132.3,325.7 132.1,327.4 132.3,328.9 132.3,330.6 132.3,332.3 132.5,333.9 132.3,335.6 132.5,337.1 132.5,338.7 132.6,340.4 132.6,341.9 132.4,343.7 132.6,345.3 132.7,346.9 132.6,348.6 132.7,350.1 132.6,351.6 132.7,353.3 132.7,355.0 133.0,356.6 132.9,358.1 132.9,359.8 133.0,361.4 133.0,363.1 133.1,364.7 133.1,366.4 133.0,367.9 133.1,369.6 133.2,371.3 133.1,372.9 133.0,374.5 133.2,375.9 133.1,377.8 133.3,379.3 133.3,380.8 133.3,382.7 133.4,384.0 133.3,385.7 133.5,387.5 133.6,389.0 133.4,390.5 133.4,392.2 133.5,393.8 133.6,395.6 133.6,397.2 133.6,398.7 133.8,400.3 133.6,402.1 133.7,400.3 133.8,398.8 133.7,397.2 133.7,395.6 133.8,393.8 133.7,392.1 133.8,390.4 133.9,389.1 133.8,387.4 133.9,385.7 134.0,384.0 134.0,382.3 134.0,380.8 133.9,379.0 134.1,377.5 134.0,375.9 134.2,374.3 134.0,372.7 134.2,371.0 134.2,369.4 134.1,367.8 134.2,366.0 134.3,364.4 134.1,362.9 134.1,361.1 134.1,359.5 134.3,358.0 134.4,356.4 134.4,354.6 134.5,352.9 134.3,351.4 134.3,349.7 134.3,348.0 134.3,346.4 134.4,344.9 134.4,343.1 134.5,341.5 134.6,339.9 134.4,338.3 134.7,336.6 134.6,335.0 134.7,333.5 134.5,331.7 134.7,330.1 134.7,328.5 134.6,326.8 134.9,325.3 134.9,323.7 135.0,322.2 134.9,320.5 134.9,318.9 135.2,317.2 135.1,315.7 135.3,314.1 135.3,312.4 135.4,310.8 135.3,309.1 135.6,307.6 135.4,306.0 135.6,304.2 135.8,302.6 135.7,301.2 135.7,299.5 135.8,297.9 136.0,296.4 136.1,294.8 136.0,293.0 136.2,291.6 136.0,289.9 136.1,288.1 136.2,286.7 136.3,285.1 136.4,283.5 136.3,281.9 136.3,280.2 136.4,278.5 136.7,277.0 136.7,275.4 136.7,273.6 136.7,272.2 136.7,270.6 136.8,269.0 136.8,267.4 136.8,265.5 137.0,264.1 137.1,262.4 137.2,260.8 137.1,259.2 137.1,257.5 137.2,256.0 137.4,254.3 137.4,252.7 137.5,251.0 137.6,249.7 137.6,248.0 137.8,246.2 137.6,244.7 137.8,243.1 137.8,241.5 138.6,241.6 138.5,243.2 138.6,244.8 138.7,246.5 138.8,248.0 138.9,249.7 138.9,251.2 139.0,252.8 139.1,254.4 139.0,256.0 139.2,257.8 139.2,259.5 139.1,261.1 139.4,262.5 139.2,264.2 139.3,265.8 139.5,267.4 139.4,269.0 139.4,270.7 139.6,272.2 139.5,274.0 139.6,275.6 139.8,277.1 139.6,278.9 139.7,280.5 139.9,282.1 139.9,283.7 139.9,285.3 140.2,286.9 140.0,288.4 140.1,290.2 140.3,291.7 140.3,293.3 140.3,295.0 140.5,296.6 140.4,298.3 140.4,299.8 140.5,301.7 140.5,303.2 140.6,304.9 140.6,306.5 140.7,308.0 140.7,309.9 140.7,311.5 140.7,313.1 140.9,314.7 140.8,316.2 141.0,318.1 141.1,319.7 141.1,321.4 141.1,323.0 141.2,324.4 141.3,326.1 141.5,327.9 141.5,329.4 141.4,331.1 141.4,332.6 141.5,334.3 141.5,335.9 142.2,338.1 143.0,340.0 143.6,342.1 145.6,343.9 147.6,344.7 149.7,345.3 151.1,344.2 152.5,342.9 154.3,341.2 156.4,342.1 158.8,342.5 159.1,344.0 159.0,345.9 159.6,347.5 159.9,349.5 160.4,350.7 160.7,352.5 160.9,354.1 162.3,355.7 163.7,357.1 164.8,355.7 166.1,354.0 166.7,352.5 167.3,350.8 166.9,349.1 167.2,347.5 168.1,345.3 167.7,344.2 168.3,342.4 169.0,341.0 169.0,339.3 169.6,337.6 169.5,336.0 169.9,334.4 170.3,332.5 170.4,330.6 171.5,329.3 171.8,327.7 172.2,326.1 172.1,324.4 172.9,322.6 173.6,320.9 173.7,320.0 174.2,317.8 174.1,316.6 174.7,314.5 174.9,313.4 175.2,311.4 176.4,309.8 176.5,308.0 176.3,306.3 177.1,305.1 177.6,303.6 179.4,302.5 180.3,300.9 181.6,299.5 182.3,298.1 183.6,296.1 183.4,294.6 184.1,292.3 185.1,290.9 185.8,289.2 185.6,286.9 186.2,285.2 187.1,282.8 187.4,281.1 187.2,279.7 187.7,278.1 187.5,275.5 188.2,273.8 189.2,271.2 188.9,269.1 189.4,267.3 190.7,266.9 191.5,266.7 192.4,268.7 193.7,270.4 194.5,272.2 194.8,274.2 194.9,276.6 195.5,279.0 197.0,281.3 197.2,282.2 198.1,283.7 198.3,285.3 199.4,287.1 200.1,288.7 200.5,290.9 201.2,292.9 202.0,295.2 202.9,297.1 203.8,299.0 204.8,301.5 205.4,303.7 207.5,302.6 207.9,305.1 207.6,306.8 208.7,309.9 209.4,310.2 209.3,311.8 210.5,313.6 211.5,315.3 211.7,318.4 213.7,320.1 214.4,321.3 214.9,322.6 215.6,324.8 216.5,326.2 217.4,326.9 218.7,329.4 218.8,329.6 220.0,330.8 221.8,331.8 223.2,333.1 224.5,335.3 225.7,334.7 228.4,336.4 229.1,337.7 228.8,338.6 231.3,340.0 231.4,341.7 233.2,342.9 235.0,343.7 236.1,346.0 238.1,347.3 239.2,348.4 241.5,349.1 243.7,348.4 245.5,348.7 246.5,350.7 247.4,350.5 250.0,351.7 252.0,352.9 253.2,354.3 255.7,352.5 258.8,353.0 258.1,354.6 258.0,355.9 259.1,356.6 259.0,358.3 259.8,360.1 260.5,358.7 261.4,355.9 263.4,358.2 264.7,358.1 267.5,358.9 269.4,359.5 270.0,360.6 272.9,360.5 273.7,360.3 275.2,361.5 278.4,361.1 279.9,362.2 281.7,363.1 283.5,363.4 285.5,364.5 286.4,365.1 288.3,365.1 291.0,366.5 292.4,367.3 294.7,367.3 295.2,368.9 297.0,368.5 298.9,369.0 301.9,368.5 303.2,369.5 304.9,371.3 306.4,370.9 307.3,372.5 308.6,374.4 310.7,374.8 312.1,376.3 314.3,374.4 315.0,373.7 315.6,372.2 317.1,370.9 318.4,369.5 319.3,367.8 320.0,366.4 321.1,364.6 322.1,362.4 324.0,360.3 325.1,359.6 326.4,357.9 328.0,356.7 329.9,354.8 331.1,354.3 332.7,353.3 334.8,350.7 336.7,349.1 338.2,351.2 338.6,352.6 338.9,354.2 339.1,356.6 338.7,358.2 339.0,360.0 340.1,361.5 340.4,362.8 340.7,364.7 341.6,366.6 342.7,368.4 343.7,370.3 344.0,371.3 344.8,373.5 344.8,374.9 345.8,377.1 346.7,378.4 347.3,379.9 347.8,381.6 348.7,383.2 350.0,384.8 351.1,386.8 353.1,388.0 354.6,389.1 355.7,389.9 356.8,390.4 358.8,391.5 360.6,392.7 361.6,394.0 362.6,392.5 362.6,390.4 363.3,388.6 364.0,386.9 364.9,386.1 365.5,384.4 366.7,382.9 368.0,382.4 369.3,381.2 370.6,380.4 373.1,381.1 374.6,381.9 376.0,382.8 378.3,383.5 379.6,384.4 382.0,385.2 383.8,385.4 385.9,385.9 387.5,386.3 389.5,387.0 392.1,388.0" fill="none" stroke="#000000" stroke-width="2.3" stroke-linejoin="round" stroke-linecap="butt" />
<polyline points="66.6,398.4 68.1,398.4 69.6,398.7 71.4,398.7 73.0,399.0 74.5,399.1 76.1,399.5 77.8,399.7 79.5,400.0 81.4,400.5 83.0,401.0 84.6,401.4 86.4,401.7 88.3,401.9 90.1,402.2 91.9,402.4 93.5,402.6 95.3,404.0 97.2,405.2 98.6,404.2 100.0,403.2 101.5,402.3 103.2,401.8 104.8,401.0 106.5,400.4 107.9,399.8 109.9,400.5 111.5,401.2 112.9,402.6 114.2,403.8 115.3,405.1 116.5,403.9 118.0,402.9 119.3,401.8 120.5,403.1 121.5,404.3 122.5,405.7 124.6,404.1 125.2,402.7 125.5,401.0 125.7,399.3 126.2,397.5 126.3,396.0 126.6,394.4 126.4,392.7 126.7,391.0 126.7,389.4 126.9,387.7 127.1,386.3 127.1,384.5 127.3,383.0 127.5,381.2 127.5,379.5 127.5,378.1 127.7,376.4 127.7,374.9 127.6,373.3 127.9,371.5 127.8,370.0 128.1,368.5 128.0,366.7 128.0,365.0 128.1,363.7 128.4,361.9 128.4,360.4 128.4,358.8 128.4,357.0 128.5,355.6 128.7,353.9 128.6,352.4 128.8,350.8 128.9,349.1 128.8,347.6 128.8,346.0 128.9,344.2 129.1,342.5 129.0,341.2 129.0,339.6 129.2,337.8 129.2,336.2 129.3,334.7 129.3,332.9 129.4,331.3 129.4,329.9 129.4,328.1 129.5,326.5 129.4,324.9 129.4,323.4 129.7,321.8 129.8,320.1 129.6,318.5 129.7,317.0 129.7,315.4 129.8,313.7 129.7,312.2 129.8,310.5 129.9,308.9 130.1,307.4 130.2,305.8 130.0,304.0 130.0,302.7 130.1,300.9 130.2,299.3 130.2,297.7 130.3,296.1 130.2,294.4 130.3,292.9 130.5,291.4 130.5,289.7 130.6,288.1 130.6,286.4 131.3,286.6 131.2,288.2 131.2,289.7 131.2,291.4 131.3,293.0 131.5,294.8 131.3,296.2 131.5,298.1 131.5,299.7 131.6,301.3 131.4,302.9 131.5,304.6 131.5,306.2 131.7,307.7 131.7,309.4 131.7,311.1 131.9,312.7 131.6,314.2 131.8,315.9 131.9,317.6 131.8,319.3 132.0,320.9 131.9,322.6 132.0,324.2 132.0,325.8 131.9,327.4 132.0,329.0 132.0,330.7 132.1,332.5 132.1,334.0 132.2,335.7 132.1,337.4 132.2,339.1 132.3,340.5 132.4,342.1 132.2,343.8 132.3,345.4 132.5,347.0 132.4,348.7 132.4,350.3 132.5,352.0 132.6,353.9 132.5,355.3 132.6,357.1 132.5,358.7 132.7,360.3 132.8,362.0 132.7,363.6 132.8,365.1 132.7,366.7 133.0,368.6 132.8,370.1 132.8,371.6 133.0,373.4 133.0,375.0 133.0,376.6 133.0,378.4 133.0,380.0 133.0,381.5 133.0,383.1 133.2,384.7 133.2,386.5 133.3,388.0 133.3,389.7 133.4,391.5 133.4,393.1 133.4,394.8 133.5,396.4 133.4,398.0 133.6,399.7 133.7,401.2 133.5,402.9 133.5,404.7 133.8,406.2 133.8,407.8 133.8,406.2 133.7,404.7 133.7,402.9 133.9,401.4 133.9,399.7 134.0,398.2 133.9,396.4 134.0,394.9 133.8,393.3 134.0,391.6 133.9,390.2 134.0,388.4 133.9,386.9 134.0,385.3 134.1,383.6 134.2,382.1 134.1,380.3 134.1,378.9 134.0,377.2 134.2,375.7 134.2,374.0 134.2,372.3 134.1,370.8 134.1,369.3 134.2,367.5 134.4,365.8 134.4,364.3 134.2,362.7 134.2,361.0 134.3,359.5 134.3,358.1 134.3,356.2 134.3,354.5 134.5,353.0 134.3,351.5 134.4,349.7 134.5,348.2 134.4,346.6 134.5,345.0 134.6,343.6 134.6,341.8 134.5,340.2 134.6,338.7 134.8,337.1 134.8,335.4 134.8,333.8 135.0,332.0 134.8,330.6 135.0,328.9 135.2,327.3 135.0,325.5 135.2,324.1 135.3,322.3 135.2,320.8 135.5,319.0 135.4,317.4 135.5,315.7 135.5,314.1 135.5,312.8 135.6,311.1 135.8,309.3 135.7,307.7 135.8,306.2 135.8,304.5 136.0,302.8 136.2,301.2 136.1,299.7 136.2,298.0 136.2,296.4 136.3,294.6 136.3,293.3 136.4,291.5 136.5,290.0 136.4,288.3 136.7,286.7 136.5,285.2 136.6,283.5 136.6,281.9 136.8,280.3 136.8,278.4 136.9,276.9 137.0,275.3 137.1,273.8 136.9,272.2 137.0,270.4 137.1,268.9 137.4,267.1 137.3,265.7 137.5,263.9 137.4,262.5 137.6,260.7 137.6,259.0 137.6,257.6 137.5,255.8 137.8,254.1 137.7,252.7 138.5,252.6 138.8,254.2 138.8,255.7 138.8,257.4 138.8,259.0 138.7,260.6 138.9,262.3 138.9,263.9 139.0,265.5 139.1,266.9 139.1,268.5 139.2,270.2 139.1,271.9 139.4,273.4 139.3,275.1 139.4,276.6 139.4,278.3 139.3,279.8 139.4,281.4 139.4,283.0 139.5,284.6 139.8,286.1 139.7,287.9 139.7,289.3 139.8,291.0 139.8,292.5 139.8,294.1 139.9,295.8 139.9,297.4 140.1,298.9 140.2,300.7 140.3,302.3 140.2,303.8 140.2,305.5 140.2,307.0 140.2,308.6 140.5,310.3 140.3,312.0 140.4,313.4 140.5,315.0 140.7,316.8 140.8,318.4 140.7,319.9 140.7,321.6 140.9,323.1 140.9,324.8 140.8,326.5 140.9,328.0 140.9,329.8 140.9,331.2 141.1,332.9 141.1,334.5 141.2,336.1 141.2,337.6 141.4,339.3 141.4,340.9 141.5,342.5 141.5,344.3 141.4,345.9 141.6,347.2 141.6,349.0 141.7,351.1 142.1,353.1 142.2,355.0 143.3,353.6 144.1,352.2 145.1,350.8 146.0,349.4 147.0,348.1 148.2,349.4 149.6,351.0 150.8,352.5 152.0,354.1 153.4,355.2 154.6,356.9 155.6,358.2 156.9,359.9 158.5,358.0 159.3,356.5 159.8,354.5 159.8,352.5 160.3,350.7 160.8,349.0 160.8,347.8 160.8,345.7 161.6,344.4 161.5,342.6 161.8,340.4 162.3,339.4 162.6,337.2 162.5,336.0 163.1,334.2 162.7,332.4 163.2,330.2 163.6,328.4 163.7,326.9 164.1,325.1 164.4,323.5 164.4,321.5 164.9,319.6 165.5,318.5 165.8,316.7 166.4,314.5 167.2,312.7 167.5,311.3 167.2,310.5 167.8,308.0 168.5,306.5 168.9,305.1 169.8,303.3 170.0,301.6 170.0,299.7 170.9,297.9 171.6,296.3 172.3,294.4 172.6,292.7 173.3,290.3 174.4,288.1 174.6,286.2 175.5,284.2 175.6,282.0 176.6,280.5 176.7,278.7 176.4,277.0 176.8,275.5 176.8,273.6 177.6,271.3 178.7,270.3 179.2,268.8 179.9,266.8 180.1,264.6 180.6,262.5 182.5,260.0 183.0,261.5 184.3,263.1 185.8,264.4 185.7,265.9 185.7,267.9 187.4,270.7 188.0,273.4 188.8,274.2 189.0,276.4 189.0,278.3 189.3,279.6 190.0,282.2 190.4,283.9 190.6,285.7 192.0,287.3 192.5,288.4 193.5,290.6 195.0,293.1 196.1,294.0 197.0,293.5 199.2,294.3 201.2,294.2 203.2,296.0 204.3,295.6 206.5,297.5 207.2,297.2 207.4,295.9 208.2,299.3 208.1,301.3 207.9,302.3 209.1,303.8 210.9,306.1 210.1,308.0 210.8,309.1 212.4,310.7 212.0,313.2 212.5,315.0 212.9,315.1 215.3,317.7 215.4,319.7 215.8,321.4 216.8,323.1 218.2,324.9 220.1,326.5 220.2,327.2 223.0,328.5 223.3,329.9 224.5,330.5 226.6,331.7 227.5,333.5 229.2,335.1 229.5,337.1 230.0,338.3 231.0,339.6 233.5,341.6 235.3,342.4 235.2,342.8 237.8,344.0 239.9,345.8 240.8,346.2 242.6,346.9 245.7,347.3 246.9,348.8 248.6,348.6 249.6,349.9 251.6,350.5 252.9,351.1 255.1,351.3 258.6,349.1 258.6,352.1 258.9,353.4 258.9,354.5 258.9,355.6 259.2,357.4 260.5,355.9 261.4,355.1 262.9,355.1 265.6,356.0 266.0,357.3 268.4,358.1 270.2,357.6 272.3,358.5 273.5,357.9 276.5,358.4 278.7,359.7 280.0,358.7 280.9,359.6 282.9,361.6 285.1,361.8 287.4,363.1 288.9,363.0 291.2,363.7 291.4,365.1 293.4,364.9 295.7,366.5 297.9,366.4 300.4,367.3 301.6,366.9 302.7,368.0 305.0,369.1 305.9,370.1 306.8,369.9 310.0,372.0 310.4,372.4 312.1,374.1 315.2,374.1 316.4,371.9 317.9,370.8 319.6,368.7 320.9,366.7 321.9,364.9 323.5,363.1 325.0,361.9 326.5,360.5 328.3,359.3 329.9,358.1 331.0,356.7 332.8,355.3 335.2,353.9 337.2,352.0 338.2,353.7 338.1,355.7 338.0,357.5 338.0,359.4 338.1,360.9 338.3,363.1 339.2,364.6 339.9,366.2 341.1,367.8 342.5,370.0 342.8,371.6 343.6,373.6 344.9,375.5 345.7,377.2 346.4,379.1 346.9,380.4 348.8,382.2 349.7,383.9 351.3,384.8 353.1,386.4 354.4,387.3 355.7,388.5 357.0,389.4 359.0,390.1 360.3,391.9 361.5,393.1 362.6,391.2 362.4,389.2 363.0,387.6 363.5,386.2 365.0,384.1 365.9,382.9 366.6,381.5 368.0,380.7 369.6,379.7 370.8,378.8 372.4,379.9 374.4,380.9 376.2,381.6 377.8,382.2 379.6,383.2 382.2,383.9 383.8,384.1 385.8,384.9 387.7,385.2 389.6,385.7 392.1,386.6" fill="none" stroke="#009a00" stroke-width="2.3" stroke-linejoin="round" stroke-linecap="butt" />
<polyline points="66.5,398.5 68.0,398.5 69.6,398.5 71.2,398.8 72.9,398.9 74.5,399.0 76.2,399.4 78.0,399.8 79.6,400.3 81.3,400.5 82.9,401.0 84.7,401.4 86.3,401.5 88.3,401.9 90.0,402.1 91.9,402.4 93.6,402.8 95.3,404.0 97.1,405.2 98.6,404.4 100.1,403.3 101.6,402.3 103.0,401.8 104.8,401.0 106.4,400.3 107.9,399.8 109.8,400.6 111.7,401.4 112.8,402.5 113.9,403.9 115.3,405.2 116.6,404.1 118.0,402.8 119.3,401.8 120.3,403.0 121.3,404.2 122.5,405.6 124.7,404.3 125.0,402.6 125.5,400.8 125.8,399.3 126.2,397.6 126.4,395.9 126.4,394.5 126.5,392.7 126.6,390.9 126.9,389.5 126.9,387.7 127.2,386.1 127.3,384.4 127.4,382.7 127.3,381.1 127.5,379.6 127.4,377.9 127.7,376.2 127.7,374.6 127.7,373.0 127.9,371.3 127.8,369.5 128.1,368.0 128.1,366.3 128.0,364.6 128.1,363.1 128.4,361.3 128.4,359.7 128.6,358.2 128.4,356.5 128.6,354.7 128.7,353.0 128.8,351.6 128.6,349.8 128.9,348.4 128.9,346.8 128.8,345.0 129.0,343.3 128.9,341.7 129.0,340.3 129.1,338.6 129.0,336.9 129.3,335.4 129.1,333.6 129.2,332.2 129.2,330.3 129.3,328.8 129.5,327.2 129.5,325.5 129.6,323.9 129.6,322.3 129.6,320.6 129.7,319.0 129.8,317.5 129.6,315.9 129.9,314.2 129.7,312.7 129.8,311.1 130.0,309.2 129.9,307.9 130.1,306.0 130.0,304.6 129.9,302.7 130.2,301.2 130.2,299.6 130.2,298.0 130.3,296.2 130.3,294.9 130.5,293.0 130.4,291.4 130.6,289.8 130.6,288.2 130.7,286.5 130.6,285.0 131.2,284.9 131.3,286.5 131.4,288.3 131.4,289.9 131.3,291.4 131.3,293.0 131.4,294.6 131.3,296.4 131.6,298.0 131.4,299.4 131.4,301.2 131.7,302.7 131.5,304.5 131.7,305.9 131.8,307.7 131.7,309.2 131.6,310.8 131.7,312.6 131.9,314.0 131.9,315.6 131.8,317.3 132.0,319.0 131.9,320.4 132.0,322.1 132.1,323.7 132.0,325.3 132.1,326.8 132.0,328.5 132.1,330.1 132.2,331.9 132.2,333.6 132.2,335.0 132.3,336.7 132.5,338.1 132.2,339.8 132.3,341.5 132.5,343.2 132.6,344.8 132.5,346.3 132.5,347.9 132.5,349.5 132.7,351.1 132.8,352.7 132.8,354.3 132.7,356.0 132.8,357.8 132.7,359.1 132.7,361.0 132.8,362.6 132.8,364.2 132.9,365.8 133.0,367.3 132.9,368.9 133.1,370.7 133.1,372.3 133.1,373.8 133.2,375.3 133.2,377.1 133.2,378.5 133.2,380.2 133.5,381.8 133.3,383.5 133.5,385.2 133.3,386.7 133.3,388.3 133.5,389.8 133.4,391.6 133.5,393.2 133.5,394.7 133.6,396.5 133.6,397.9 133.8,396.4 133.9,394.7 133.7,393.2 133.8,391.5 133.8,390.0 134.0,388.2 133.9,386.5 134.1,384.9 134.0,383.3 134.0,381.8 134.0,380.2 134.1,378.5 134.2,376.9 134.2,375.4 134.1,373.5 134.1,371.9 134.1,370.6 134.3,368.7 134.3,367.2 134.2,365.5 134.2,364.1 134.4,362.4 134.5,360.7 134.4,359.2 134.5,357.4 134.6,355.7 134.6,354.1 134.6,352.5 134.6,351.0 134.7,349.3 134.6,347.8 134.8,346.2 135.0,344.3 135.0,342.7 135.2,341.2 135.2,339.5 135.1,337.9 135.2,336.2 135.5,334.6 135.5,332.9 135.6,331.3 135.8,329.7 135.6,328.1 135.7,326.4 135.9,324.7 135.9,323.1 135.9,321.5 136.1,319.8 136.1,318.3 136.4,316.8 136.3,315.1 136.3,313.4 136.6,311.9 136.6,310.2 136.8,308.5 136.6,306.9 136.7,305.4 136.8,303.7 137.0,302.0 136.9,300.3 137.1,298.9 137.2,297.1 137.4,295.4 137.4,293.8 137.4,292.1 137.4,290.4 137.7,288.8 137.7,287.2 137.7,285.5 137.8,283.9 138.6,284.1 138.8,285.5 138.8,287.3 138.9,288.9 138.9,290.5 138.8,292.0 139.1,293.7 139.1,295.4 139.1,296.8 139.1,298.7 139.3,300.2 139.4,301.7 139.4,303.4 139.5,305.0 139.4,306.6 139.7,308.2 139.6,309.9 139.8,311.5 139.7,313.1 139.9,314.6 139.8,316.4 140.0,318.0 139.9,319.6 140.2,321.1 140.3,322.8 140.2,324.5 140.2,326.0 140.5,327.8 140.4,329.4 140.4,330.9 140.7,332.5 140.6,334.2 140.8,335.8 140.8,337.5 140.9,339.2 140.9,340.6 141.1,342.4 141.2,344.1 141.0,345.6 141.4,347.3 141.3,349.0 141.3,350.7 141.5,352.1 141.6,353.9 141.5,355.4 141.8,357.5 142.2,359.6 142.5,361.5 144.4,360.3 146.0,359.1 148.0,359.6 150.1,359.9 151.6,359.7 153.3,359.3 154.4,359.1 155.5,357.6 155.7,355.5 155.9,353.5 156.8,351.6 156.8,350.2 157.1,349.1 157.2,347.2 158.1,345.0 158.0,343.5 158.3,341.9 159.2,340.8 159.3,338.8 159.6,337.1 159.9,335.5 160.2,334.0 160.6,332.6 161.0,330.8 161.1,329.2 161.5,327.4 162.0,326.3 161.9,324.9 162.6,323.3 162.9,321.6 163.1,319.6 163.8,317.7 164.1,316.5 164.2,314.6 164.7,312.7 165.6,311.0 165.8,310.8 165.8,308.4 167.1,306.9 167.4,304.7 167.7,303.3 169.0,300.8 169.5,298.9 170.5,296.9 171.3,294.9 171.9,293.0 172.6,290.9 172.9,288.9 173.5,286.3 174.2,283.8 174.8,282.0 174.6,280.5 175.2,279.3 175.5,277.6 175.1,276.4 175.9,274.8 176.0,272.4 176.8,270.3 176.8,268.4 177.2,266.8 179.0,265.8 179.4,266.7 181.1,268.0 180.9,269.3 181.6,270.9 182.1,273.6 182.5,276.0 183.6,277.5 183.8,279.8 184.9,281.6 185.7,282.5 186.0,284.1 186.3,285.1 188.0,288.0 189.4,290.6 190.2,293.4 191.5,295.4 192.9,295.1 194.6,294.9 196.0,294.1 198.1,292.4 199.9,291.8 201.6,294.5 203.2,295.7 205.1,296.7 207.0,299.2 206.8,299.0 208.1,299.6 208.0,302.1 207.9,304.4 209.8,306.2 209.5,308.4 211.1,308.8 212.0,311.7 212.5,313.4 212.5,313.4 213.6,316.1 214.5,318.2 214.8,318.4 216.0,320.0 216.0,322.2 216.6,323.7 218.6,325.2 219.6,327.0 220.2,329.5 221.9,329.3 224.0,331.5 225.2,333.5 226.0,334.1 228.2,334.8 228.8,336.4 230.4,337.5 230.0,340.1 230.8,341.5 232.7,342.5 234.7,343.6 236.7,343.7 237.2,345.3 239.2,346.7 242.5,346.9 243.1,347.1 245.4,348.3 246.5,350.1 247.6,350.5 249.0,352.0 252.4,351.8 254.4,352.2 255.1,351.9 257.8,350.8 258.1,352.4 258.4,354.9 258.5,356.2 259.8,357.7 258.8,358.9 260.0,357.1 262.1,356.0 263.3,355.9 265.2,358.4 266.7,358.7 268.7,358.9 271.2,358.6 272.1,360.4 273.4,360.7 276.1,360.2 278.7,361.3 279.3,360.3 280.6,361.6 282.9,362.6 285.0,362.6 285.9,363.8 288.3,364.3 290.7,365.2 291.5,365.1 293.3,367.0 296.6,367.9 297.6,368.1 299.7,367.3 300.7,368.9 303.2,369.0 304.4,369.4 305.6,370.7 307.4,371.8 309.2,373.3 310.2,374.8 312.1,375.1 314.8,373.8 316.2,372.7 318.0,371.7 319.5,371.0 321.1,369.6 322.1,368.6 323.9,367.3 325.5,365.8 326.2,364.0 328.2,363.1 329.6,361.3 330.7,360.0 332.2,358.9 334.7,357.3 336.7,355.7 337.4,357.8 337.4,359.6 338.0,361.3 337.8,362.7 337.8,364.8 337.7,366.3 339.1,367.7 339.5,368.9 340.7,370.6 341.2,372.0 342.8,373.4 344.4,376.5 344.8,378.1 345.9,379.2 347.0,380.2 348.4,382.8 350.1,384.9 351.0,385.8 352.8,387.5 354.2,388.5 356.1,389.0 356.9,390.2 358.7,391.3 360.2,392.7 362.2,394.0 362.2,392.3 362.8,390.4 363.5,388.0 364.1,386.9 364.8,385.4 365.5,383.9 366.5,382.2 368.0,381.4 369.8,380.6 370.7,380.0 372.9,381.0 374.5,381.1 375.8,382.7 378.2,383.1 380.3,383.5 382.2,384.4 383.5,385.3 386.0,385.1 387.8,386.3 390.2,386.8 392.1,387.5" fill="none" stroke="#c800c8" stroke-width="2.3" stroke-linejoin="round" stroke-linecap="butt" />
<ellipse cx="199.5" cy="305.8" rx="38.1" ry="41" fill="none" stroke="#ff0000" stroke-width="2.1" stroke-dasharray="8,5.8" stroke-dashoffset="4.6"/>
<polyline points="189.5,267.3 199.2,264.5 102,189.7" fill="none" stroke="#ff0000" stroke-width="2.5" stroke-linejoin="miter"/>
<polygon points="96.1,185.2 100.9,194.7 106.5,187.4" fill="#ff0000"/>
<line x1="11" y1="29.1" x2="184" y2="29.1" stroke="#000" stroke-width="1.4" stroke-dasharray="3.4,2.6"/>
<line x1="11" y1="100.2" x2="184" y2="100.2" stroke="#000" stroke-width="1.4" stroke-dasharray="3.4,2.6"/>
<line x1="11" y1="172.0" x2="184" y2="172.0" stroke="#000" stroke-width="1.4" stroke-dasharray="3.4,2.6"/>
<line x1="52.7" y1="184.5" x2="52.7" y2="8" stroke="#000" stroke-width="1.4" stroke-dasharray="3.4,2.6"/>
<polyline points="10.2,185.8 10.3,184.7 10.7,182.0 11.5,180.4 12.0,177.8 12.9,176.1 14.0,174.0 14.8,171.5 15.9,169.2 17.5,167.2 17.9,165.1 18.4,163.3 19.6,161.1 20.0,158.8 21.2,156.7 21.7,154.6 22.8,152.3 23.4,149.8 24.0,148.1 24.4,145.9 25.1,143.8 26.0,141.2 26.7,139.6 27.8,137.2 28.9,134.8 30.0,132.9 31.3,130.6 31.9,128.8 33.1,126.1 33.5,124.5 34.4,122.0 35.4,120.3 36.2,117.6 36.8,116.1 37.7,113.7 38.6,111.6 39.0,109.6 40.0,107.1 40.9,104.7 41.8,102.8 43.1,100.6 43.4,98.3 44.0,95.5 44.5,92.5 45.3,89.9 45.9,86.1 46.5,83.6 47.1,80.9 47.5,78.6 48.0,76.2 48.1,73.7 49.1,71.5 49.3,69.3 49.7,67.0 50.7,64.4 50.8,62.2 51.4,59.2 51.8,57.3 52.4,54.8 52.5,52.4 53.3,49.6 53.8,47.1 53.9,45.1 54.9,43.1 55.4,41.1 55.9,38.9 56.2,36.3 56.7,34.2 57.3,32.1 57.6,30.0 59.1,27.4 59.9,25.3 61.4,22.7 63.5,21.2 65.4,20.6 69.9,21.3 71.2,23.4 72.8,24.8 74.2,26.9 75.4,28.6 76.3,31.4 77.4,33.1 78.3,35.7 79.1,37.7 79.7,40.1 80.2,42.3 81.4,45.0 81.7,47.2 82.9,49.2 83.0,51.6 83.5,53.8 84.4,55.7 85.0,58.3 85.1,60.2 85.6,62.4 86.0,64.3 87.1,66.6 88.2,68.4 89.8,70.8 90.7,73.2 92.5,75.2 93.1,77.4 93.8,79.2 95.0,81.5 95.6,83.3 96.4,86.0 97.3,88.0 98.5,89.9 99.6,92.2 101.0,93.9 102.0,95.8 103.1,98.1 103.8,99.8 105.6,102.0 107.3,104.2 109.6,105.9 110.0,108.2 110.1,110.7 110.9,113.6 111.2,116.1 113.2,117.4 115.1,119.5 116.8,121.1 119.9,121.7 122.3,121.9 125.7,122.5 127.8,123.1 130.9,123.6 132.5,121.8 134.5,119.5 136.1,117.6 137.9,116.4 139.2,114.7 141.3,112.9 142.6,111.4 145.5,110.7 148.2,110.5 150.9,111.3 153.2,112.3 155.6,111.7 157.3,111.7 159.2,113.6 160.4,115.1 161.5,117.3 162.8,118.8 165.3,121.0 167.1,122.3 169.7,124.1 170.9,126.5 171.8,127.8 173.5,129.7 175.1,131.8 176.7,133.6 177.8,134.9 180.2,133.8 182.3,132.5" fill="none" stroke="#e07a00" stroke-width="2.35" stroke-linejoin="round" stroke-linecap="butt" />
<polyline points="34.9,185.4 34.9,184.3 35.9,182.4 36.6,179.9 37.2,178.0 37.9,175.7 38.2,173.9 38.6,171.8 39.8,169.6 40.1,167.1 40.7,165.2 41.2,163.3 42.4,160.7 43.0,158.9 43.7,156.8 43.8,154.6 45.0,152.5 45.6,149.8 46.2,148.0 46.7,145.5 47.9,143.7 48.3,141.4 49.2,139.7 50.3,137.1 50.8,135.4 51.8,133.0 52.6,130.6 53.0,128.7 53.9,126.8 54.9,124.3 55.9,122.3 56.6,120.3 57.3,118.2 57.8,115.8 58.2,113.9 58.8,111.4 59.4,109.0 59.5,107.4 60.0,105.1 60.7,102.8 61.0,100.8 63.0,99.1 65.7,98.0 67.6,96.2 67.8,92.9 69.0,90.3 69.0,87.6 69.5,85.2 69.9,82.6 70.1,80.0 70.7,77.6 71.2,74.9 72.1,73.0 72.4,70.6 73.2,68.9 73.9,66.6 74.3,64.4 74.8,61.9 75.4,59.8 76.6,58.2 76.9,55.6 77.4,53.8 78.2,51.5 78.8,49.4 79.6,47.0 80.1,44.7 80.8,43.1 81.5,40.5 82.1,38.5 82.6,36.6 83.3,34.6 83.8,32.1 84.6,30.3 85.7,28.0 86.4,25.6 86.9,23.6 87.9,21.5 90.3,19.7 92.1,17.9 95.7,18.5 98.4,18.0 100.1,19.6 102.2,21.4 103.7,22.3 105.6,24.7 107.1,27.8 108.4,29.8 108.5,32.7 108.8,34.7 109.2,37.5 109.6,39.6 109.5,42.2 110.2,44.7 110.7,47.0 111.2,49.4 111.3,51.9 112.1,55.0 112.4,57.1 112.8,59.5 113.5,61.9 114.3,64.3 114.5,66.7 115.4,68.6 116.3,70.7 116.9,72.7 117.6,74.9 118.2,77.6 118.4,79.5 119.3,81.8 119.7,83.8 120.4,85.4 121.3,88.2 121.8,89.9 123.0,92.8 124.2,95.1 125.5,96.9 126.6,100.0 127.4,101.9 128.1,104.8 128.8,106.7 130.0,109.5 130.9,111.4 132.1,113.3 134.0,115.9 135.2,118.2 137.1,119.7 139.5,120.4 141.5,122.4 142.9,123.9 144.5,125.9 145.4,127.9 146.8,129.6 148.6,131.5 149.8,133.8 151.6,136.1 153.0,138.6 155.7,139.6 158.9,141.4 159.6,143.7 160.5,145.6 161.9,148.2 164.0,149.9 166.3,151.2 168.4,153.5 170.8,155.2 172.7,157.0 175.1,158.9 177.2,157.4 179.0,155.8 180.8,154.2 182.3,152.2" fill="none" stroke="#0000ff" stroke-width="2.35" stroke-linejoin="round" stroke-linecap="butt" />
<polyline points="59.9,185.7 60.2,184.4 60.5,182.2 60.6,179.5 61.3,177.0 63.5,175.4 65.2,173.9 67.9,172.8 68.4,170.3 69.0,167.7 69.2,165.6 69.6,162.8 70.5,160.9 71.7,158.6 73.2,156.8 73.7,154.4 75.5,152.5 76.8,150.7 78.7,149.5 79.9,147.8 81.4,145.5 83.6,144.1 85.2,142.5 87.5,140.8 88.8,139.4 91.1,137.6 92.6,136.9 94.4,134.9 96.9,133.6 99.6,131.8 99.9,129.8 100.4,127.3 100.6,124.9 100.8,122.6 101.4,120.1 101.6,118.0 102.6,116.0 103.4,113.9 103.9,111.1 104.7,109.2 105.5,107.2 106.4,105.3 106.9,102.8 107.3,100.6 107.8,98.6 108.8,96.5 109.3,94.3 109.9,92.5 110.6,89.8 111.5,88.0 111.9,85.8 113.1,83.5 113.5,81.6 114.5,79.7 115.0,77.2 115.8,75.5 116.7,73.2 117.9,70.6 119.2,68.5 119.7,66.9 120.9,64.1 123.0,63.7 125.5,62.7 127.5,63.4 130.0,64.1 131.6,66.8 134.3,68.9 136.5,70.8 138.2,72.0 140.5,73.7 141.2,76.1 142.2,78.5 143.0,81.6 143.3,83.7 144.0,85.6 144.8,87.8 145.6,90.0 147.1,92.5 148.3,95.1 149.3,97.1 150.3,99.9 151.1,102.1 151.3,104.3 152.0,106.4 152.4,108.3 153.4,110.7 154.5,112.7 155.4,115.2 156.3,117.4 158.0,119.7 158.9,121.9 159.4,124.0 160.4,126.3 160.9,128.9 162.0,130.6 162.7,132.7 163.9,135.0 164.8,137.3 165.9,139.5 167.0,141.5 168.4,143.4 169.6,145.9 170.3,147.8 171.5,150.4 172.8,151.9 174.4,154.4 176.0,156.3 177.8,156.1 180.4,155.2 182.3,154.4" fill="none" stroke="#ff0000" stroke-width="2.35" stroke-linejoin="round" stroke-linecap="butt" />
<polyline points="52.8,185.4 53.5,183.3 54.4,180.9 55.4,178.9 56.3,176.4 56.8,173.9 57.8,171.2 58.4,169.5 59.6,167.0 59.6,164.9 60.3,162.6 60.9,160.5 63.6,159.7 66.0,159.1 68.9,159.0 69.9,156.6 71.6,155.0 72.7,153.5 74.5,151.4 76.2,149.7 77.4,147.9 78.8,146.3 79.6,144.0 81.2,142.2 82.5,139.7 83.3,138.3 84.7,136.4 85.2,133.8 85.5,131.1 86.0,129.1 86.3,126.5 86.9,124.4 88.8,121.9 90.7,120.0 92.6,117.7 92.4,115.7 93.5,112.8 93.6,110.6 94.2,108.2 94.9,106.0 94.7,102.9 95.5,100.6 96.3,98.6 97.5,96.8 99.0,94.7 99.6,92.5 100.0,89.5 100.5,87.6 100.4,85.0 101.1,82.3 101.1,80.2 101.8,77.3 101.8,75.0 102.5,72.8 102.5,70.0 103.0,67.3 103.7,64.5 103.7,62.3 104.7,60.0 105.4,57.8 106.4,56.0 107.5,53.8 107.8,51.4 108.3,49.3 109.0,46.9 109.5,44.4 109.8,42.0 110.7,39.9 113.4,38.5 116.0,38.1 118.7,37.9 120.0,40.4 120.9,41.8 122.4,44.2 124.3,46.4 125.6,48.1 127.5,50.6 128.4,52.7 129.0,55.3 129.1,57.6 129.6,60.0 130.4,62.2 130.9,64.3 131.5,66.8 131.8,68.8 132.8,70.9 133.2,72.9 133.7,75.4 134.2,77.0 135.2,79.6 136.2,81.4 138.2,84.0 139.5,85.8 140.4,88.1 141.8,90.0 142.5,92.4 143.4,94.2 143.8,96.7 144.9,98.7 145.9,100.4 146.6,103.0 148.3,105.5 149.3,107.7 150.2,110.3 151.1,112.4 152.6,114.6 153.1,117.1 154.3,119.6 155.4,121.9 156.3,124.3 157.9,126.3 158.7,129.2 159.5,131.0 160.7,133.5 161.9,135.6 162.9,138.0 164.2,140.3 165.6,142.7 166.6,144.9 168.4,146.6 169.7,149.7 171.5,152.2 172.4,154.6 174.2,157.2 175.9,159.9 179.0,159.8 182.3,160.4" fill="none" stroke="#000000" stroke-width="2.35" stroke-linejoin="round" stroke-linecap="butt" />
<polyline points="21.9,185.3 21.8,184.6 22.3,181.5 23.3,178.9 23.7,176.0 24.3,173.8 25.6,171.3 26.1,169.4 26.8,167.5 28.1,164.8 28.5,163.0 28.9,161.0 29.9,158.5 30.5,156.3 31.3,154.7 31.9,151.9 32.9,150.3 33.3,148.0 34.0,145.8 35.5,143.1 36.0,140.9 36.7,138.4 37.8,136.1 38.8,133.9 39.7,132.1 41.0,129.3 41.5,127.3 42.6,124.8 43.7,122.6 45.0,120.2 46.3,117.8 46.8,115.6 47.4,113.4 48.2,111.4 48.9,109.6 50.2,107.5 51.0,104.7 51.6,103.1 52.3,100.5 52.8,97.8 52.9,95.1 53.6,92.7 54.1,89.7 54.9,88.1 56.0,85.7 56.9,83.5 57.4,81.5 57.4,78.8 57.9,76.7 57.9,74.5 59.0,72.0 59.1,69.3 59.6,66.6 59.4,64.7 59.8,62.0 60.4,59.9 61.7,57.2 61.9,54.9 64.2,53.2 65.6,51.7 67.4,50.2 68.3,48.2 68.4,45.6 68.6,43.4 69.2,41.1 69.5,38.6 70.4,36.4 71.0,33.8 72.1,31.8 72.6,29.4 73.1,27.4 73.7,24.7 75.3,22.2 77.4,20.4 78.8,18.5 80.2,16.0 82.3,18.1 83.4,19.9 85.1,21.4 85.6,23.9 87.0,26.0 88.1,27.7 90.3,29.0 93.3,29.9 93.9,32.5 94.4,34.9 94.3,37.6 94.8,40.6 95.6,43.2 96.7,45.3 98.4,47.5 99.6,49.1 101.0,51.2 101.4,53.7 102.0,56.7 103.2,59.0 103.8,61.1 105.8,63.1 107.4,64.7 107.9,67.0 108.4,69.5 108.2,71.5 108.9,74.0 109.8,76.9 110.0,78.9 110.1,81.2 110.9,84.2 112.0,87.0 112.5,90.1 113.5,92.3 113.7,94.3 114.4,96.2 115.3,98.6 115.7,100.8 116.6,102.9 118.1,105.3 119.0,107.0 120.2,109.7 121.0,111.4 122.3,113.5 124.2,115.8 125.2,117.7 126.5,120.1 127.8,122.0 129.4,124.6 131.1,126.4 133.2,127.9 134.9,129.6 138.4,129.3 141.7,128.4 143.9,129.5 146.7,130.9 149.9,131.0 152.4,130.8 154.8,131.1 157.7,131.1 159.5,132.0 161.0,133.9 162.8,135.1 165.1,135.7 167.6,136.8 169.1,137.5 171.0,138.5 172.8,140.3 174.2,141.8 175.8,143.4 177.8,141.7 179.0,140.4 182.3,138.3" fill="none" stroke="#009a00" stroke-width="2.35" stroke-linejoin="round" stroke-linecap="butt" />
<polyline points="13.6,185.6 14.0,184.2 15.0,182.3 16.0,180.4 16.5,178.0 17.6,176.1 18.2,173.7 19.5,171.3 20.5,169.4 21.1,166.9 21.8,165.1 22.5,163.3 23.6,160.7 24.9,158.7 25.6,155.7 26.7,153.4 27.8,151.5 28.7,148.8 29.8,146.4 31.4,144.2 32.5,141.6 33.4,139.1 34.2,137.0 35.2,135.1 36.0,133.0 36.8,130.5 37.7,128.9 38.7,126.6 39.6,124.5 40.0,122.3 41.1,119.9 41.5,117.7 42.8,115.6 43.4,113.3 43.7,111.7 44.3,109.3 45.1,107.0 45.7,104.8 45.8,102.6 47.1,100.9 47.9,98.5 49.1,96.3 49.9,94.6 50.8,92.4 51.4,90.1 51.8,85.5 51.9,83.6 52.4,81.1 52.9,78.9 53.3,76.6 53.3,74.2 53.7,71.3 54.1,69.2 54.2,67.0 54.8,64.7 55.2,62.3 55.7,60.3 56.3,57.6 56.8,55.5 56.9,53.3 57.7,51.1 58.4,49.2 58.3,47.3 59.3,45.2 59.7,42.4 60.6,39.9 61.0,37.7 63.6,36.6 66.7,35.7 68.6,37.1 70.8,38.7 72.9,40.1 75.3,41.6 76.1,44.2 76.2,46.4 76.8,49.0 77.6,50.9 78.2,53.8 78.8,55.4 79.5,57.9 80.3,59.9 80.6,62.2 81.5,64.7 82.0,66.3 82.6,68.4 83.3,71.0 83.8,72.8 84.8,74.8 85.4,77.2 86.4,79.5 86.6,81.4 88.7,83.6 90.4,85.8 92.6,88.0 94.6,89.9 94.8,92.9 95.3,95.7 95.8,98.3 96.7,100.4 97.9,102.7 99.7,105.3 101.4,107.2 102.7,109.2 104.2,111.7 105.8,113.7 107.4,115.8 109.5,117.9 110.4,120.1 111.2,123.1 112.0,125.1 112.5,127.9 114.4,129.5 115.8,131.0 117.7,132.7 120.6,132.8 123.2,133.5 125.6,133.0 128.4,133.8 130.7,133.9 133.2,132.3 134.9,131.0 137.3,129.5 139.3,127.9 140.9,126.2 142.4,123.9 144.9,123.9 147.7,123.3 149.5,123.3 152.3,123.5 154.1,125.0 155.4,126.6 157.0,127.8 158.5,129.7 160.9,131.3 163.1,132.3 164.9,133.8 166.7,135.8 168.4,137.2 169.6,138.7 171.6,140.2 173.3,142.5 174.9,144.7 176.9,147.2 179.8,145.2 182.3,143.6" fill="none" stroke="#c800c8" stroke-width="2.35" stroke-linejoin="round" stroke-linecap="butt" />
<path d="M354.3,78.3 C354.7,78.3 354.7,78.1 356.5,78.6 C358.3,79.0 361.9,79.7 365.0,81.0 C368.1,82.3 372.0,84.4 375.0,86.5 C378.0,88.6 380.6,90.6 383.0,93.5 C385.4,96.4 387.8,99.8 389.5,104.0 C391.2,108.2 392.8,114.2 393.3,119.0 C393.8,123.8 393.1,128.7 392.5,133.0 C391.9,137.3 391.4,140.8 389.5,145.0 C387.6,149.2 384.2,154.7 381.0,158.5 C377.8,162.3 374.3,165.5 370.0,168.0 C365.7,170.5 360.2,172.4 355.0,173.5 C349.8,174.6 344.2,175.0 339.0,174.6 C333.8,174.2 328.7,172.9 324.0,171.0 C319.3,169.1 315.2,166.3 311.0,163.0 C306.8,159.7 302.2,155.3 299.0,151.0 C295.8,146.7 293.6,141.5 291.6,137.0 C289.6,132.5 287.9,128.2 287.0,124.0 C286.1,119.8 286.1,115.7 286.4,111.5 C286.6,107.3 287.4,102.9 288.5,99.0 C289.6,95.1 291.1,91.5 293.0,88.0 C294.9,84.5 297.5,81.0 300.0,78.0 C302.5,75.0 305.2,72.2 308.0,70.0 C310.8,67.8 314.0,66.3 317.0,65.0 C320.0,63.7 322.2,62.8 326.0,62.0 C329.8,61.2 335.4,60.5 340.0,60.0 C344.6,59.5 347.1,59.5 353.7,59.0 C360.3,58.5 375.1,57.1 379.4,56.7 L401.6,54.9 L456.7,54.9" fill="none" stroke="#2c2ca8" stroke-width="1.1"/>
<path d="M354.3,78.3 L356,78.4 L401.6,83 L456.7,83" fill="none" stroke="#2c2ca8" stroke-width="1.1"/>
<path d="M337.7,82.7 L338.2,83.1 L338.8,83.4 L339.6,83.6 L340.5,83.8 L341.4,84.1 L342.3,84.3 L343.2,84.7 L344.1,85.0 L345.0,85.4 L345.7,85.8 L346.5,86.3 L347.4,86.9 L348.2,87.5 L349.1,88.2 L350.0,89.0 L350.9,89.8 L351.7,90.6 L352.5,91.5 L353.3,92.3 L354.0,93.2 L354.7,94.0 L355.4,94.9 L356.0,95.9 L356.6,96.8 L357.2,97.7 L357.8,98.7 L358.3,99.7 L358.8,100.6 L359.2,101.6 L359.6,102.5 L360.0,103.5 L360.3,104.4 L360.6,105.3 L360.9,106.2 L361.1,107.1 L361.3,108.0 L361.4,108.9 L361.5,109.7 L361.5,110.6 L361.4,111.4 L361.3,112.3 L361.0,113.3 L360.6,114.3 L360.2,115.4 L359.7,116.5 L359.2,117.5 L358.7,118.5 L358.3,119.4 L358.2,120.3 L358.9,121.3 L358.9,121.3 L360.1,121.2 L360.7,120.6 L361.2,119.7 L361.7,118.7 L362.2,117.6 L362.8,116.5 L363.2,115.3 L363.7,114.1 L364.0,112.9 L364.2,111.8 L364.3,110.7 L364.3,109.6 L364.2,108.6 L364.0,107.5 L363.8,106.5 L363.6,105.5 L363.3,104.5 L362.9,103.5 L362.6,102.5 L362.2,101.5 L361.8,100.5 L361.3,99.4 L360.8,98.4 L360.2,97.4 L359.6,96.3 L359.0,95.3 L358.3,94.3 L357.6,93.3 L356.9,92.3 L356.2,91.4 L355.4,90.5 L354.6,89.6 L353.7,88.7 L352.8,87.8 L351.9,86.9 L350.9,86.1 L350.0,85.3 L349.0,84.6 L348.0,83.9 L347.1,83.4 L346.0,82.9 L344.9,82.6 L343.8,82.4 L342.7,82.3 L341.6,82.3 L340.6,82.3 L339.7,82.3 L338.9,82.4 L338.3,82.5 L337.7,82.7 Z" fill="#fff" stroke="#2c2ca8" stroke-width="1.05" stroke-linejoin="round"/>
<path d="M370.9,90.9 L370.9,91.5 L371.1,92.2 L371.4,92.9 L371.8,93.8 L372.1,94.6 L372.5,95.5 L372.9,96.5 L373.1,97.4 L373.3,98.3 L373.5,99.1 L373.6,100.1 L373.7,101.1 L373.7,102.1 L373.7,103.3 L373.7,104.4 L373.6,105.6 L373.5,106.8 L373.3,108.0 L373.1,109.1 L372.9,110.2 L372.7,111.3 L372.4,112.3 L372.1,113.4 L371.7,114.5 L371.3,115.5 L370.9,116.6 L370.5,117.6 L370.0,118.6 L369.6,119.5 L369.1,120.4 L368.6,121.2 L368.1,122.1 L367.5,122.9 L367.0,123.7 L366.4,124.4 L365.8,125.1 L365.2,125.7 L364.6,126.3 L363.9,126.9 L363.2,127.4 L362.5,127.8 L361.6,128.2 L360.5,128.5 L359.4,128.9 L358.3,129.1 L357.1,129.4 L356.1,129.6 L355.1,129.9 L354.3,130.4 L354.0,131.5 L354.0,131.6 L354.8,132.4 L355.7,132.5 L356.7,132.4 L357.7,132.1 L358.9,131.9 L360.1,131.6 L361.4,131.2 L362.6,130.8 L363.7,130.3 L364.7,129.7 L365.6,129.1 L366.4,128.4 L367.2,127.7 L367.9,127.0 L368.6,126.2 L369.3,125.3 L369.9,124.5 L370.4,123.6 L371.0,122.7 L371.5,121.8 L372.1,120.8 L372.6,119.8 L373.1,118.7 L373.5,117.6 L374.0,116.5 L374.4,115.4 L374.7,114.3 L375.1,113.1 L375.4,111.9 L375.6,110.8 L375.9,109.6 L376.1,108.4 L376.2,107.1 L376.4,105.9 L376.5,104.6 L376.5,103.4 L376.5,102.1 L376.5,100.9 L376.4,99.8 L376.2,98.6 L375.9,97.5 L375.5,96.5 L374.9,95.5 L374.3,94.6 L373.7,93.7 L373.1,92.9 L372.5,92.2 L372.0,91.7 L371.5,91.2 L371.0,90.9 Z" fill="#fff" stroke="#2c2ca8" stroke-width="1.05" stroke-linejoin="round"/>
<path d="M385.2,122.0 L384.7,122.4 L384.3,122.9 L383.9,123.6 L383.5,124.4 L383.1,125.3 L382.6,126.1 L382.1,127.0 L381.6,127.8 L381.0,128.5 L380.4,129.1 L379.8,129.8 L379.0,130.5 L378.2,131.2 L377.3,131.9 L376.4,132.6 L375.4,133.2 L374.4,133.9 L373.4,134.5 L372.4,135.1 L371.4,135.6 L370.4,136.0 L369.4,136.5 L368.3,136.9 L367.3,137.3 L366.2,137.7 L365.2,138.0 L364.1,138.3 L363.1,138.5 L362.0,138.8 L361.0,138.9 L360.0,139.1 L359.1,139.2 L358.1,139.3 L357.2,139.3 L356.2,139.4 L355.3,139.3 L354.5,139.3 L353.6,139.1 L352.7,139.0 L351.9,138.7 L351.1,138.4 L350.3,137.9 L349.3,137.3 L348.4,136.6 L347.4,135.9 L346.5,135.2 L345.7,134.5 L344.9,134.0 L344.0,133.6 L342.9,134.0 L342.9,134.1 L342.8,135.3 L343.2,136.0 L343.9,136.7 L344.8,137.4 L345.7,138.1 L346.7,138.9 L347.8,139.6 L348.8,140.3 L349.9,140.9 L351.0,141.4 L352.1,141.7 L353.1,141.9 L354.1,142.0 L355.2,142.1 L356.2,142.2 L357.3,142.1 L358.3,142.1 L359.4,142.0 L360.4,141.9 L361.5,141.7 L362.6,141.5 L363.7,141.3 L364.8,141.0 L365.9,140.7 L367.1,140.3 L368.2,140.0 L369.4,139.5 L370.5,139.1 L371.6,138.6 L372.6,138.1 L373.7,137.5 L374.8,136.9 L375.8,136.3 L376.9,135.6 L378.0,134.9 L379.0,134.1 L380.0,133.4 L380.9,132.6 L381.7,131.8 L382.5,131.0 L383.2,130.0 L383.7,129.0 L384.1,128.0 L384.5,126.9 L384.8,125.9 L385.0,125.0 L385.2,124.1 L385.3,123.3 L385.3,122.6 L385.3,122.0 Z" fill="#fff" stroke="#2c2ca8" stroke-width="1.05" stroke-linejoin="round"/>
<path d="M369.8,152.5 L369.2,152.4 L368.5,152.5 L367.7,152.6 L366.9,152.7 L365.9,152.9 L365.0,153.1 L364.0,153.2 L363.0,153.3 L362.1,153.3 L361.2,153.2 L360.3,153.1 L359.3,153.0 L358.3,152.8 L357.2,152.5 L356.0,152.2 L354.9,151.9 L353.8,151.5 L352.7,151.1 L351.6,150.6 L350.6,150.2 L349.6,149.7 L348.6,149.2 L347.6,148.7 L346.7,148.1 L345.7,147.5 L344.8,146.8 L343.9,146.2 L343.1,145.5 L342.3,144.9 L341.5,144.2 L340.8,143.5 L340.1,142.8 L339.4,142.1 L338.8,141.4 L338.2,140.7 L337.6,140.0 L337.2,139.3 L336.7,138.5 L336.3,137.7 L336.0,137.0 L335.8,136.1 L335.6,135.1 L335.5,134.0 L335.4,132.9 L335.4,131.7 L335.4,130.5 L335.4,129.5 L335.3,128.5 L335.0,127.6 L334.0,127.0 L333.9,127.0 L333.0,127.6 L332.7,128.4 L332.6,129.4 L332.6,130.5 L332.6,131.7 L332.6,133.0 L332.7,134.3 L332.8,135.5 L333.0,136.7 L333.4,137.9 L333.8,138.9 L334.2,139.8 L334.8,140.7 L335.4,141.6 L336.0,142.5 L336.7,143.3 L337.4,144.0 L338.1,144.8 L338.8,145.5 L339.6,146.3 L340.5,147.0 L341.3,147.7 L342.2,148.4 L343.2,149.1 L344.2,149.8 L345.2,150.5 L346.2,151.1 L347.3,151.7 L348.3,152.2 L349.4,152.7 L350.5,153.2 L351.7,153.7 L352.8,154.1 L354.0,154.5 L355.2,154.9 L356.5,155.2 L357.7,155.5 L358.8,155.8 L360.0,155.9 L361.1,156.0 L362.3,156.0 L363.4,155.7 L364.5,155.4 L365.5,155.1 L366.5,154.7 L367.4,154.2 L368.2,153.8 L368.9,153.4 L369.4,153.0 L369.9,152.6 Z" fill="#fff" stroke="#2c2ca8" stroke-width="1.05" stroke-linejoin="round"/>
<path d="M336.4,159.6 L336.1,159.0 L335.6,158.5 L335.0,158.0 L334.4,157.4 L333.6,156.8 L332.9,156.1 L332.2,155.4 L331.5,154.7 L331.0,154.0 L330.5,153.3 L330.0,152.5 L329.4,151.6 L328.9,150.7 L328.5,149.6 L328.0,148.6 L327.6,147.5 L327.2,146.4 L326.8,145.2 L326.5,144.1 L326.2,143.1 L325.9,142.0 L325.7,140.9 L325.6,139.8 L325.4,138.7 L325.3,137.6 L325.2,136.5 L325.2,135.4 L325.1,134.3 L325.2,133.2 L325.2,132.2 L325.3,131.2 L325.4,130.3 L325.5,129.3 L325.7,128.4 L325.9,127.5 L326.1,126.6 L326.4,125.7 L326.7,124.9 L327.0,124.1 L327.5,123.4 L328.0,122.7 L328.6,121.9 L329.4,121.2 L330.3,120.4 L331.2,119.6 L332.1,118.9 L333.0,118.3 L333.7,117.6 L334.2,116.8 L334.0,115.7 L334.0,115.6 L332.9,115.2 L332.1,115.5 L331.2,116.0 L330.3,116.7 L329.4,117.5 L328.4,118.3 L327.5,119.1 L326.6,120.0 L325.8,121.0 L325.1,121.9 L324.6,122.9 L324.1,123.8 L323.7,124.8 L323.4,125.8 L323.1,126.8 L322.9,127.8 L322.8,128.9 L322.6,129.9 L322.5,131.0 L322.4,132.0 L322.4,133.1 L322.3,134.3 L322.4,135.4 L322.4,136.6 L322.5,137.8 L322.6,139.0 L322.8,140.2 L323.0,141.4 L323.2,142.6 L323.5,143.7 L323.8,144.9 L324.1,146.1 L324.5,147.3 L325.0,148.5 L325.4,149.6 L325.9,150.8 L326.4,151.9 L327.0,153.0 L327.6,154.0 L328.2,154.9 L329.0,155.8 L329.8,156.5 L330.8,157.2 L331.7,157.8 L332.6,158.3 L333.5,158.7 L334.3,159.1 L335.1,159.4 L335.7,159.6 L336.3,159.6 Z" fill="#fff" stroke="#2c2ca8" stroke-width="1.05" stroke-linejoin="round"/>
<path d="M310.0,137.8 L310.3,137.2 L310.4,136.5 L310.4,135.7 L310.5,134.8 L310.5,133.9 L310.5,132.9 L310.6,131.9 L310.8,131.0 L311.0,130.1 L311.2,129.3 L311.5,128.4 L311.9,127.4 L312.3,126.4 L312.8,125.4 L313.4,124.4 L314.0,123.4 L314.6,122.4 L315.2,121.4 L315.9,120.4 L316.6,119.5 L317.2,118.7 L318.0,117.8 L318.7,117.0 L319.5,116.2 L320.3,115.4 L321.1,114.7 L321.9,113.9 L322.8,113.2 L323.6,112.6 L324.4,112.0 L325.3,111.5 L326.1,110.9 L326.9,110.4 L327.7,110.0 L328.6,109.6 L329.4,109.2 L330.2,108.9 L331.0,108.6 L331.9,108.4 L332.7,108.3 L333.6,108.2 L334.6,108.3 L335.7,108.4 L336.8,108.6 L338.0,108.8 L339.1,109.1 L340.2,109.4 L341.1,109.5 L342.0,109.4 L342.9,108.6 L342.9,108.5 L342.5,107.4 L341.8,106.9 L340.8,106.6 L339.8,106.4 L338.6,106.1 L337.3,105.8 L336.1,105.6 L334.8,105.5 L333.6,105.4 L332.4,105.5 L331.3,105.7 L330.3,105.9 L329.3,106.2 L328.3,106.6 L327.4,107.0 L326.4,107.5 L325.5,108.0 L324.6,108.6 L323.7,109.1 L322.8,109.7 L321.9,110.4 L321.0,111.1 L320.1,111.8 L319.2,112.6 L318.4,113.4 L317.5,114.2 L316.7,115.1 L315.9,116.0 L315.1,116.9 L314.3,117.8 L313.6,118.8 L312.9,119.8 L312.2,120.9 L311.6,121.9 L310.9,123.0 L310.3,124.1 L309.8,125.2 L309.3,126.3 L308.9,127.4 L308.5,128.5 L308.3,129.6 L308.3,130.8 L308.4,131.9 L308.5,133.0 L308.7,134.0 L308.9,135.0 L309.1,135.9 L309.4,136.7 L309.6,137.3 L309.9,137.8 Z" fill="#fff" stroke="#2c2ca8" stroke-width="1.05" stroke-linejoin="round"/>
<path d="M310.6,103.6 L311.2,103.5 L311.8,103.1 L312.5,102.6 L313.2,102.1 L313.9,101.5 L314.7,101.0 L315.6,100.4 L316.4,100.0 L317.2,99.6 L318.0,99.2 L318.9,98.9 L319.9,98.6 L320.9,98.3 L322.0,98.1 L323.2,97.9 L324.3,97.7 L325.5,97.6 L326.7,97.5 L327.8,97.4 L329.0,97.3 L330.0,97.3 L331.2,97.4 L332.3,97.4 L333.4,97.5 L334.5,97.7 L335.6,97.9 L336.7,98.1 L337.7,98.3 L338.7,98.5 L339.7,98.8 L340.7,99.1 L341.6,99.4 L342.5,99.8 L343.4,100.1 L344.2,100.5 L345.0,100.9 L345.8,101.4 L346.5,101.9 L347.2,102.4 L347.8,102.9 L348.4,103.6 L349.0,104.4 L349.6,105.4 L350.1,106.4 L350.7,107.4 L351.2,108.5 L351.6,109.5 L352.1,110.3 L352.8,111.0 L353.9,111.1 L354.0,111.0 L354.6,110.0 L354.5,109.2 L354.2,108.3 L353.7,107.3 L353.2,106.2 L352.6,105.0 L352.0,103.9 L351.3,102.9 L350.6,101.8 L349.8,101.0 L349.0,100.2 L348.2,99.6 L347.3,99.0 L346.4,98.5 L345.5,98.0 L344.5,97.5 L343.5,97.1 L342.5,96.8 L341.5,96.4 L340.5,96.1 L339.5,95.8 L338.4,95.5 L337.2,95.3 L336.1,95.1 L334.9,94.9 L333.7,94.8 L332.5,94.7 L331.3,94.6 L330.1,94.5 L328.9,94.5 L327.7,94.6 L326.5,94.7 L325.2,94.8 L324.0,94.9 L322.7,95.1 L321.5,95.3 L320.3,95.6 L319.1,95.9 L318.0,96.3 L316.9,96.7 L315.9,97.2 L315.0,97.9 L314.2,98.6 L313.4,99.4 L312.7,100.2 L312.1,101.0 L311.5,101.7 L311.1,102.4 L310.7,103.0 L310.5,103.5 Z" fill="#fff" stroke="#2c2ca8" stroke-width="1.05" stroke-linejoin="round"/>
<rect x="434.5" y="200.3" width="108.8" height="175.2" fill="#fff" stroke="#b0b0b0" stroke-width="1"/>
<line x1="434.5" y1="200.3" x2="437" y2="200.3" stroke="#000" stroke-width="1.2"/>
<line x1="541" y1="200.3" x2="543.3" y2="200.3" stroke="#000" stroke-width="1.2"/>
<line x1="541" y1="375.5" x2="543.3" y2="375.5" stroke="#000" stroke-width="1.2"/>
<line x1="442.5" y1="216.2" x2="482.7" y2="216.2" stroke="#e07a00" stroke-width="2.2"/>
<text transform="translate(486,225.0) scale(0.915,1)" class="lg">θ = 0<tspan dy="-7.6" dx="0.8" font-size="13.8">0</tspan></text>
<line x1="442.5" y1="245.2" x2="482.7" y2="245.2" stroke="#0000ff" stroke-width="2.2"/>
<text transform="translate(486,254.0) scale(0.915,1)" class="lg">θ = 10<tspan dy="-7.6" dx="0.8" font-size="13.8">0</tspan></text>
<line x1="442.5" y1="273.6" x2="482.7" y2="273.6" stroke="#ff0000" stroke-width="2.2"/>
<text transform="translate(486,282.4) scale(0.915,1)" class="lg">θ = 20<tspan dy="-7.6" dx="0.8" font-size="13.8">0</tspan></text>
<line x1="442.5" y1="302.3" x2="482.7" y2="302.3" stroke="#000000" stroke-width="2.2"/>
<text transform="translate(486,311.1) scale(0.915,1)" class="lg">θ = 30<tspan dy="-7.6" dx="0.8" font-size="13.8">0</tspan></text>
<line x1="442.5" y1="330.3" x2="482.7" y2="330.3" stroke="#009a00" stroke-width="2.2"/>
<text transform="translate(486,339.1) scale(0.915,1)" class="lg">θ = 40<tspan dy="-7.6" dx="0.8" font-size="13.8">0</tspan></text>
<line x1="442.5" y1="359.2" x2="482.7" y2="359.2" stroke="#c800c8" stroke-width="2.2"/>
<text transform="translate(486,368.0) scale(0.915,1)" class="lg">θ = 50<tspan dy="-7.6" dx="0.8" font-size="13.8">0</tspan></text>
<text x="62" y="205.2" class="tk" text-anchor="end">0.5</text>
<text x="62" y="248.3" class="tk" text-anchor="end">0.4</text>
<text x="62" y="291.4" class="tk" text-anchor="end">0.3</text>
<text x="62" y="334.4" class="tk" text-anchor="end">0.2</text>
<text x="62" y="377.5" class="tk" text-anchor="end">0.1</text>
<text x="62" y="420.6" class="tk" text-anchor="end">0</text>
<text x="67.3" y="433.4" class="tk" text-anchor="middle">A</text>
<text x="103.5" y="433.4" class="tk" text-anchor="middle">B</text>
<text x="139.6" y="433.4" class="tk" text-anchor="middle">C</text>
<text x="175.8" y="433.4" class="tk" text-anchor="middle">D</text>
<text x="211.9" y="433.4" class="tk" text-anchor="middle">E</text>
<text x="248.1" y="433.4" class="tk" text-anchor="middle">F</text>
<text x="284.3" y="433.4" class="tk" text-anchor="middle">G</text>
<text x="320.4" y="433.4" class="tk" text-anchor="middle">H</text>
<text x="356.6" y="433.4" class="tk" text-anchor="middle">I</text>
<text x="392.7" y="433.4" class="tk" text-anchor="middle">J</text>
<text x="428.9" y="433.4" class="tk" text-anchor="middle">K</text>
<text x="236.9" y="455.9" class="xl" text-anchor="middle">Distance along the volute casing</text>
<text transform="translate(31.2,303.5) rotate(-90)" class="yl" text-anchor="middle" xml:space="preserve">Wall shear stress [kPa]</text>
<text transform="translate(459.3,79.7) scale(0.88,1)" class="vl" text-anchor="middle">A</text>
<text transform="translate(411.3,79.7) scale(0.88,1)" class="vl" text-anchor="middle">B</text>
<text transform="translate(360.7,82.7) scale(0.88,1)" class="vl" text-anchor="middle">C</text>
<text transform="translate(402.5,133.3) scale(0.88,1)" class="vl" text-anchor="middle">D</text>
<text transform="translate(364.5,186.4) scale(0.88,1)" class="vl" text-anchor="middle">E</text>
<text transform="translate(278.7,157.1) scale(0.88,1)" class="vl" text-anchor="middle">F</text>
<text transform="translate(274.1,93.9) scale(0.88,1)" class="vl" text-anchor="middle">G</text>
<text transform="translate(318.5,55.5) scale(0.88,1)" class="vl" text-anchor="middle">H</text>
<text transform="translate(380.3,48.4) scale(0.88,1)" class="vl" text-anchor="middle">I</text>
<text transform="translate(435.6,48.4) scale(0.88,1)" class="vl" text-anchor="middle">J</text>
</svg>
</body></html>
